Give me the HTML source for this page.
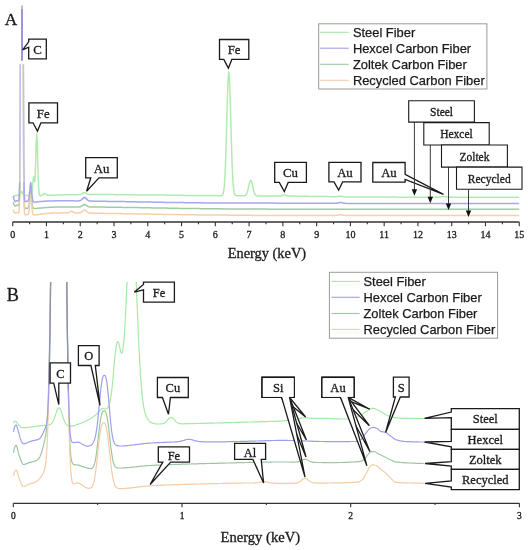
<!DOCTYPE html>
<html><head><meta charset="utf-8"><title>EDS spectra</title>
<style>html,body{margin:0;padding:0;background:#fff;width:528px;height:550px;overflow:hidden}svg{display:block}.t{font-family:'Liberation Serif','Times New Roman',serif;fill:#1a1a1a;stroke:#1a1a1a;stroke-width:0.3px}.l{font-family:'Liberation Sans',Arial,sans-serif;fill:#1a1a1a;stroke:#1a1a1a;stroke-width:0.25px}</style>
</head><body>
<svg width="528" height="550" viewBox="0 0 528 550"><rect x="0" y="0" width="528" height="550" fill="#fff"/><defs><clipPath id="ca"><rect x="0" y="5.7" width="528" height="230"/></clipPath><clipPath id="ca2"><rect x="0" y="64.4" width="528" height="170"/></clipPath><clipPath id="cb"><rect x="0" y="282" width="528" height="230"/></clipPath></defs><polyline points="13.2,196.7 13.7,196.3 14.2,195.9 14.7,195.7 15.2,195.6 15.7,195.5 16.2,195.4 16.7,195.4 17.2,195.3 17.7,195.3 18.2,195.3 18.7,195.3 19.2,195.2 19.7,195.0 20.2,194.3 20.7,193.2 21.2,191.9 21.7,191.4 22.2,191.9 22.7,193.2 23.2,194.4 23.7,195.1 24.2,195.4 24.7,195.4 25.2,195.5 25.7,195.5 26.2,195.5 26.7,195.5 27.2,195.6 27.7,195.6 28.2,195.5 28.7,195.4 29.2,194.9 29.7,194.1 30.2,193.2 30.7,192.8 31.2,193.1 31.7,193.2 32.2,191.1 32.7,185.6 33.2,179.1 33.7,176.7 34.2,179.7 34.7,181.8 35.2,175.6 35.7,159.7 36.2,141.9 36.7,133.9 37.2,141.9 37.7,160.3 38.2,178.0 38.7,189.1 39.2,193.9 39.7,195.4 40.2,195.7 40.7,195.7 41.2,195.5 41.7,195.3 42.2,195.0 42.7,194.6 43.2,194.2 43.7,193.8 44.2,193.6 44.7,193.6 45.2,193.8 45.7,194.1 46.2,194.5 46.7,194.8 47.2,195.1 47.7,195.2 48.2,195.3 48.7,195.3 49.2,195.3 49.7,195.3 50.2,195.3 50.7,195.3 51.2,195.3 51.7,195.2 52.2,195.2 52.7,195.2 53.2,195.2 53.7,195.2 54.2,195.1 54.7,195.1 55.2,195.1 55.7,195.1 56.2,195.1 56.7,195.0 57.2,195.0 57.7,195.0 58.2,195.0 58.7,195.0 59.2,195.0 59.7,194.9 60.2,194.9 60.7,194.9 61.2,194.9 61.7,194.9 62.2,194.9 62.7,194.9 63.2,194.8 63.7,194.8 64.2,194.8 64.7,194.8 65.2,194.8 65.7,194.8 66.2,194.8 66.7,194.8 67.2,194.8 67.7,194.8 68.2,194.8 68.7,194.8 69.2,194.8 69.7,194.8 70.2,194.8 70.7,194.8 71.2,194.7 71.7,194.7 72.2,194.7 72.7,194.7 73.2,194.7 73.7,194.7 74.2,194.7 74.7,194.7 75.2,194.7 75.7,194.7 76.2,194.7 76.7,194.7 77.2,194.7 77.7,194.7 78.2,194.7 78.7,194.7 79.2,194.6 79.7,194.6 80.2,194.5 80.7,194.3 81.2,194.2 81.7,193.9 82.2,193.6 82.7,193.3 83.2,193.0 83.7,192.8 84.2,192.7 84.7,192.7 85.2,192.8 85.7,193.0 86.2,193.2 86.7,193.5 87.2,193.8 87.7,194.1 88.2,194.3 88.7,194.4 89.2,194.5 89.7,194.6 90.2,194.6 90.7,194.6 91.2,194.6 91.7,194.6 92.2,194.6 92.7,194.6 93.2,194.6 93.7,194.6 94.2,194.6 94.7,194.6 95.2,194.6 95.7,194.6 96.2,194.6 96.7,194.6 97.2,194.6 97.7,194.6 98.2,194.6 98.7,194.6 99.2,194.6 99.7,194.6 100.2,194.6 100.7,194.6 101.2,194.6 101.7,194.6 102.2,194.6 102.7,194.6 103.2,194.6 103.7,194.6 104.2,194.6 104.7,194.6 105.2,194.6 105.7,194.6 106.2,194.6 106.7,194.6 107.2,194.6 107.7,194.6 108.2,194.6 108.7,194.6 109.2,194.6 109.7,194.6 110.2,194.6 110.7,194.6 111.2,194.6 111.7,194.6 112.2,194.6 112.7,194.6 113.2,194.6 113.7,194.6 114.2,194.7 114.7,194.7 115.2,194.7 115.7,194.7 116.2,194.7 116.7,194.7 117.2,194.7 117.7,194.7 118.2,194.7 118.7,194.7 119.2,194.7 119.7,194.7 120.2,194.7 120.7,194.7 121.2,194.7 121.7,194.7 122.2,194.7 122.7,194.7 123.2,194.7 123.7,194.7 124.2,194.7 124.7,194.7 125.2,194.7 125.7,194.8 126.2,194.8 126.7,194.8 127.2,194.8 127.7,194.8 128.2,194.8 128.7,194.8 129.2,194.8 129.7,194.8 130.2,194.8 130.7,194.8 131.2,194.8 131.7,194.8 132.2,194.8 132.7,194.8 133.2,194.8 133.7,194.8 134.2,194.8 134.7,194.8 135.2,194.9 135.7,194.9 136.2,194.9 136.7,194.9 137.2,194.9 137.7,194.9 138.2,194.9 138.7,194.9 139.2,194.9 139.7,194.9 140.2,194.9 140.7,194.9 141.2,194.9 141.7,194.9 142.2,194.9 142.7,194.9 143.2,194.9 143.7,194.9 144.2,194.9 144.7,194.9 145.2,195.0 145.7,195.0 146.2,195.0 146.7,195.0 147.2,195.0 147.7,195.0 148.2,195.0 148.7,195.0 149.2,195.0 149.7,195.0 150.2,195.0 150.7,195.0 151.2,195.0 151.7,195.0 152.2,195.0 152.7,195.0 153.2,195.0 153.7,195.0 154.2,195.0 154.7,195.0 155.2,195.0 155.7,195.1 156.2,195.1 156.7,195.1 157.2,195.1 157.7,195.1 158.2,195.1 158.7,195.1 159.2,195.1 159.7,195.1 160.2,195.1 160.7,195.1 161.2,195.1 161.7,195.1 162.2,195.1 162.7,195.1 163.2,195.1 163.7,195.1 164.2,195.1 164.7,195.1 165.2,195.1 165.7,195.2 166.2,195.2 166.7,195.2 167.2,195.2 167.7,195.2 168.2,195.2 168.7,195.2 169.2,195.2 169.7,195.2 170.2,195.2 170.7,195.2 171.2,195.2 171.7,195.2 172.2,195.2 172.7,195.2 173.2,195.2 173.7,195.2 174.2,195.2 174.7,195.3 175.2,195.3 175.7,195.3 176.2,195.3 176.7,195.3 177.2,195.3 177.7,195.3 178.2,195.3 178.7,195.3 179.2,195.3 179.7,195.3 180.2,195.3 180.7,195.3 181.2,195.3 181.7,195.3 182.2,195.3 182.7,195.3 183.2,195.3 183.7,195.3 184.2,195.4 184.7,195.4 185.2,195.4 185.7,195.4 186.2,195.4 186.7,195.4 187.2,195.4 187.7,195.4 188.2,195.4 188.7,195.4 189.2,195.4 189.7,195.4 190.2,195.4 190.7,195.4 191.2,195.4 191.7,195.4 192.2,195.4 192.7,195.4 193.2,195.4 193.7,195.5 194.2,195.5 194.7,195.5 195.2,195.5 195.7,195.5 196.2,195.5 196.7,195.5 197.2,195.5 197.7,195.5 198.2,195.5 198.7,195.5 199.2,195.5 199.7,195.5 200.2,195.5 200.7,195.5 201.2,195.5 201.7,195.5 202.2,195.5 202.7,195.5 203.2,195.5 203.7,195.5 204.2,195.6 204.7,195.6 205.2,195.6 205.7,195.6 206.2,195.6 206.7,195.6 207.2,195.6 207.7,195.6 208.2,195.6 208.7,195.6 209.2,195.6 209.7,195.6 210.2,195.6 210.7,195.6 211.2,195.6 211.7,195.6 212.2,195.6 212.7,195.6 213.2,195.6 213.7,195.6 214.2,195.6 214.7,195.6 215.2,195.6 215.7,195.6 216.2,195.6 216.7,195.6 217.2,195.7 217.7,195.7 218.2,195.7 218.7,195.7 219.2,195.7 219.7,195.7 220.2,195.7 220.7,195.6 221.2,195.6 221.7,195.5 222.2,195.2 222.7,194.5 223.2,193.2 223.7,190.9 224.2,186.9 224.7,180.5 225.2,171.2 225.7,158.4 226.2,142.4 226.7,124.3 227.2,105.7 227.7,89.1 228.2,77.2 228.7,71.9 229.2,74.2 229.7,83.7 230.2,98.7 230.7,116.8 231.2,135.4 231.7,152.4 232.2,166.5 232.7,177.2 233.2,184.7 233.7,189.6 234.2,192.5 234.7,194.2 235.2,195.0 235.7,195.4 236.2,195.6 236.7,195.7 237.2,195.8 237.7,195.8 238.2,195.8 238.7,195.8 239.2,195.8 239.7,195.8 240.2,195.8 240.7,195.8 241.2,195.8 241.7,195.8 242.2,195.8 242.7,195.8 243.2,195.8 243.7,195.8 244.2,195.7 244.7,195.6 245.2,195.5 245.7,195.1 246.2,194.6 246.7,193.7 247.2,192.5 247.7,190.8 248.2,188.7 248.7,186.4 249.2,184.1 249.7,182.1 250.2,180.7 250.7,180.2 251.2,180.7 251.7,182.1 252.2,184.1 252.7,186.4 253.2,188.7 253.7,190.8 254.2,192.5 254.7,193.8 255.2,194.6 255.7,195.2 256.2,195.5 256.7,195.7 257.2,195.8 257.7,195.9 258.2,195.9 258.7,195.9 259.2,195.9 259.7,195.9 260.2,195.9 260.7,195.9 261.2,195.9 261.7,195.9 262.2,195.9 262.7,195.9 263.2,195.9 263.7,195.9 264.2,195.9 264.7,195.9 265.2,195.9 265.7,195.9 266.2,195.9 266.7,195.9 267.2,195.9 267.7,195.9 268.2,195.9 268.7,195.9 269.2,196.0 269.7,196.0 270.2,196.0 270.7,196.0 271.2,196.0 271.7,196.0 272.2,196.0 272.7,196.0 273.2,196.0 273.7,196.0 274.2,196.0 274.7,196.0 275.2,196.0 275.7,196.0 276.2,196.0 276.7,196.0 277.2,196.0 277.7,196.0 278.2,196.0 278.7,196.0 279.2,196.0 279.7,196.0 280.2,195.9 280.7,195.9 281.2,195.8 281.7,195.7 282.2,195.5 282.7,195.4 283.2,195.2 283.7,195.1 284.2,195.1 284.7,195.1 285.2,195.1 285.7,195.2 286.2,195.4 286.7,195.5 287.2,195.7 287.7,195.8 288.2,195.9 288.7,196.0 289.2,196.0 289.7,196.1 290.2,196.1 290.7,196.1 291.2,196.1 291.7,196.1 292.2,196.1 292.7,196.1 293.2,196.1 293.7,196.1 294.2,196.1 294.7,196.1 295.2,196.2 295.7,196.2 296.2,196.2 296.7,196.2 297.2,196.2 297.7,196.2 298.2,196.2 298.7,196.2 299.2,196.2 299.7,196.2 300.2,196.2 300.7,196.2 301.2,196.2 301.7,196.2 302.2,196.2 302.7,196.2 303.2,196.2 303.7,196.3 304.2,196.3 304.7,196.3 305.2,196.3 305.7,196.3 306.2,196.3 306.7,196.3 307.2,196.3 307.7,196.3 308.2,196.3 308.7,196.3 309.2,196.3 309.7,196.3 310.2,196.3 310.7,196.4 311.2,196.4 311.7,196.4 312.2,196.4 312.7,196.4 313.2,196.4 313.7,196.4 314.2,196.4 314.7,196.4 315.2,196.4 315.7,196.4 316.2,196.4 316.7,196.4 317.2,196.5 317.7,196.5 318.2,196.5 318.7,196.5 319.2,196.5 319.7,196.5 320.2,196.5 320.7,196.5 321.2,196.5 321.7,196.5 322.2,196.5 322.7,196.5 323.2,196.6 323.7,196.6 324.2,196.6 324.7,196.6 325.2,196.6 325.7,196.6 326.2,196.6 326.7,196.6 327.2,196.6 327.7,196.6 328.2,196.6 328.7,196.6 329.2,196.6 329.7,196.7 330.2,196.7 330.7,196.7 331.2,196.7 331.7,196.7 332.2,196.7 332.7,196.7 333.2,196.7 333.7,196.7 334.2,196.7 334.7,196.7 335.2,196.7 335.7,196.7 336.2,196.7 336.7,196.7 337.2,196.6 337.7,196.6 338.2,196.5 338.7,196.4 339.2,196.3 339.7,196.3 340.2,196.2 340.7,196.2 341.2,196.3 341.7,196.3 342.2,196.4 342.7,196.5 343.2,196.6 343.7,196.7 344.2,196.7 344.7,196.8 345.2,196.8 345.7,196.9 346.2,196.9 346.7,196.9 347.2,196.9 347.7,196.9 348.2,196.9 348.7,196.9 349.2,196.9 349.7,196.9 350.2,196.9 350.7,196.9 351.2,196.9 351.7,196.9 352.2,196.9 352.7,197.0 353.2,197.0 353.7,197.0 354.2,197.0 354.7,197.0 355.2,197.0 355.7,197.0 356.2,197.0 356.7,197.0 357.2,197.0 357.7,197.0 358.2,197.0 358.7,197.0 359.2,197.0 359.7,197.0 360.2,197.0 360.7,197.0 361.2,197.0 361.7,197.0 362.2,197.0 362.7,197.0 363.2,197.0 363.7,197.0 364.2,197.0 364.7,197.0 365.2,197.0 365.7,197.0 366.2,197.0 366.7,197.0 367.2,197.0 367.7,197.0 368.2,197.0 368.7,197.0 369.2,197.0 369.7,197.0 370.2,197.0 370.7,197.0 371.2,197.1 371.7,197.1 372.2,197.1 372.7,197.1 373.2,197.1 373.7,197.1 374.2,197.1 374.7,197.1 375.2,197.1 375.7,197.1 376.2,197.1 376.7,197.1 377.2,197.1 377.7,197.1 378.2,197.1 378.7,197.1 379.2,197.1 379.7,197.1 380.2,197.1 380.7,197.1 381.2,197.1 381.7,197.1 382.2,197.1 382.7,197.1 383.2,197.1 383.7,197.1 384.2,197.1 384.7,197.1 385.2,197.1 385.7,197.1 386.2,197.1 386.7,197.1 387.2,197.1 387.7,197.1 388.2,197.1 388.7,197.1 389.2,197.1 389.7,197.1 390.2,197.1 390.7,197.1 391.2,197.1 391.7,197.1 392.2,197.1 392.7,197.1 393.2,197.1 393.7,197.1 394.2,197.1 394.7,197.1 395.2,197.1 395.7,197.2 396.2,197.2 396.7,197.2 397.2,197.2 397.7,197.2 398.2,197.2 398.7,197.2 399.2,197.2 399.7,197.2 400.2,197.2 400.7,197.2 401.2,197.2 401.7,197.2 402.2,197.2 402.7,197.2 403.2,197.2 403.7,197.2 404.2,197.2 404.7,197.2 405.2,197.2 405.7,197.2 406.2,197.2 406.7,197.2 407.2,197.2 407.7,197.2 408.2,197.2 408.7,197.2 409.2,197.2 409.7,197.2 410.2,197.2 410.7,197.2 411.2,197.2 411.7,197.2 412.2,197.2 412.7,197.2 413.2,197.2 413.7,197.2 414.2,197.2 414.7,197.2 415.2,197.2 415.7,197.2 416.2,197.2 416.7,197.2 417.2,197.2 417.7,197.2 418.2,197.2 418.7,197.2 419.2,197.2 419.7,197.2 420.2,197.2 420.7,197.2 421.2,197.2 421.7,197.2 422.2,197.2 422.7,197.2 423.2,197.2 423.7,197.2 424.2,197.2 424.7,197.2 425.2,197.2 425.7,197.2 426.2,197.2 426.7,197.2 427.2,197.2 427.7,197.2 428.2,197.2 428.7,197.3 429.2,197.3 429.7,197.3 430.2,197.3 430.7,197.3 431.2,197.3 431.7,197.3 432.2,197.3 432.7,197.3 433.2,197.3 433.7,197.3 434.2,197.3 434.7,197.3 435.2,197.3 435.7,197.2 436.2,197.2 436.7,197.2 437.2,197.2 437.7,197.2 438.2,197.1 438.7,197.1 439.2,197.0 439.7,197.0 440.2,196.9 440.7,196.8 441.2,196.8 441.7,196.7 442.2,196.6 442.7,196.5 443.2,196.5 443.7,196.5 444.2,196.5 444.7,196.5 445.2,196.5 445.7,196.6 446.2,196.7 446.7,196.8 447.2,196.8 447.7,196.9 448.2,197.0 448.7,197.1 449.2,197.1 449.7,197.2 450.2,197.2 450.7,197.2 451.2,197.2 451.7,197.3 452.2,197.3 452.7,197.3 453.2,197.3 453.7,197.3 454.2,197.3 454.7,197.3 455.2,197.3 455.7,197.3 456.2,197.3 456.7,197.3 457.2,197.3 457.7,197.3 458.2,197.3 458.7,197.3 459.2,197.3 459.7,197.3 460.2,197.3 460.7,197.3 461.2,197.3 461.7,197.3 462.2,197.3 462.7,197.3 463.2,197.3 463.7,197.3 464.2,197.3 464.7,197.3 465.2,197.3 465.7,197.3 466.2,197.3 466.7,197.3 467.2,197.3 467.7,197.3 468.2,197.3 468.7,197.3 469.2,197.3 469.7,197.3 470.2,197.3 470.7,197.3 471.2,197.3 471.7,197.3 472.2,197.3 472.7,197.3 473.2,197.3 473.7,197.3 474.2,197.3 474.7,197.3 475.2,197.3 475.7,197.3 476.2,197.3 476.7,197.3 477.2,197.3 477.7,197.3 478.2,197.3 478.7,197.3 479.2,197.3 479.7,197.3 480.2,197.3 480.7,197.3 481.2,197.3 481.7,197.3 482.2,197.3 482.7,197.3 483.2,197.3 483.7,197.3 484.2,197.3 484.7,197.3 485.2,197.3 485.7,197.3 486.2,197.3 486.7,197.3 487.2,197.3 487.7,197.3 488.2,197.3 488.7,197.3 489.2,197.3 489.7,197.3 490.2,197.3 490.7,197.3 491.2,197.3 491.7,197.3 492.2,197.3 492.7,197.3 493.2,197.3 493.7,197.3 494.2,197.3 494.7,197.3 495.2,197.3 495.7,197.3 496.2,197.3 496.7,197.3 497.2,197.3 497.7,197.3 498.2,197.3 498.7,197.3 499.2,197.3 499.7,197.3 500.2,197.3 500.7,197.3 501.2,197.3 501.7,197.3 502.2,197.3 502.7,197.3 503.2,197.3 503.7,197.3 504.2,197.3 504.7,197.3 505.2,197.3 505.7,197.3 506.2,197.3 506.7,197.3 507.2,197.3 507.7,197.3 508.2,197.3 508.7,197.3 509.2,197.3 509.7,197.3 510.2,197.3 510.7,197.3 511.2,197.3 511.7,197.3 512.2,197.3 512.7,197.3 513.2,197.3 513.7,197.3 514.2,197.3 514.7,197.3 515.2,197.3 515.7,197.3 516.2,197.3 516.7,197.3 517.2,197.3 517.7,197.3 518.2,197.3 518.7,197.3 519.2,197.3" fill="none" stroke="#b0ecb0" stroke-width="1.5" stroke-linejoin="round" clip-path="url(#ca)"/><polyline points="13.2,202.2 13.7,203.8 14.2,205.1 14.7,205.9 15.2,206.0 15.7,205.8 16.2,205.5 16.7,205.2 17.2,205.2 17.7,205.3 18.2,205.4 18.7,205.4 19.2,203.4 19.7,186.3 20.2,103.7 20.7,-134.3 21.2,-519.0 21.7,-783.7 22.2,-659.7 22.7,-278.8 23.2,33.1 23.7,168.0 24.2,202.5 24.7,207.9 25.2,208.4 25.7,208.4 26.2,208.4 26.7,208.3 27.2,208.3 27.7,208.2 28.2,207.8 28.7,206.8 29.2,204.0 29.7,199.1 30.2,193.7 30.7,191.3 31.2,193.8 31.7,199.3 32.2,204.2 32.7,207.1 33.2,208.1 33.7,208.4 34.2,208.5 34.7,208.5 35.2,208.5 35.7,208.4 36.2,208.4 36.7,208.4 37.2,208.3 37.7,208.3 38.2,208.3 38.7,208.2 39.2,208.2 39.7,208.1 40.2,208.1 40.7,208.1 41.2,208.0 41.7,208.0 42.2,207.9 42.7,207.9 43.2,207.8 43.7,207.8 44.2,207.7 44.7,207.7 45.2,207.6 45.7,207.6 46.2,207.5 46.7,207.5 47.2,207.5 47.7,207.4 48.2,207.4 48.7,207.4 49.2,207.3 49.7,207.3 50.2,207.3 50.7,207.3 51.2,207.3 51.7,207.2 52.2,207.2 52.7,207.2 53.2,207.2 53.7,207.2 54.2,207.1 54.7,207.1 55.2,207.1 55.7,207.1 56.2,207.1 56.7,207.1 57.2,207.0 57.7,207.0 58.2,207.0 58.7,207.0 59.2,207.0 59.7,207.0 60.2,207.0 60.7,207.0 61.2,206.9 61.7,206.9 62.2,206.9 62.7,206.9 63.2,206.9 63.7,206.9 64.2,206.9 64.7,206.9 65.2,206.9 65.7,206.9 66.2,206.9 66.7,206.9 67.2,206.9 67.7,206.9 68.2,206.9 68.7,206.9 69.2,206.9 69.7,206.9 70.2,206.9 70.7,206.9 71.2,206.9 71.7,206.9 72.2,206.9 72.7,206.9 73.2,206.9 73.7,206.9 74.2,206.9 74.7,206.9 75.2,206.9 75.7,206.9 76.2,206.9 76.7,206.9 77.2,206.9 77.7,206.9 78.2,206.9 78.7,206.9 79.2,206.9 79.7,206.8 80.2,206.7 80.7,206.5 81.2,206.3 81.7,206.0 82.2,205.7 82.7,205.3 83.2,204.9 83.7,204.7 84.2,204.5 84.7,204.5 85.2,204.6 85.7,204.9 86.2,205.2 86.7,205.6 87.2,206.0 87.7,206.3 88.2,206.6 88.7,206.7 89.2,206.9 89.7,206.9 90.2,207.0 90.7,207.0 91.2,207.0 91.7,207.0 92.2,207.0 92.7,207.0 93.2,207.0 93.7,207.0 94.2,207.1 94.7,207.1 95.2,207.1 95.7,207.1 96.2,207.1 96.7,207.1 97.2,207.1 97.7,207.1 98.2,207.1 98.7,207.1 99.2,207.1 99.7,207.1 100.2,207.1 100.7,207.1 101.2,207.1 101.7,207.1 102.2,207.1 102.7,207.1 103.2,207.1 103.7,207.1 104.2,207.1 104.7,207.1 105.2,207.1 105.7,207.2 106.2,207.2 106.7,207.2 107.2,207.2 107.7,207.2 108.2,207.2 108.7,207.2 109.2,207.2 109.7,207.2 110.2,207.2 110.7,207.2 111.2,207.2 111.7,207.2 112.2,207.2 112.7,207.2 113.2,207.2 113.7,207.2 114.2,207.2 114.7,207.3 115.2,207.3 115.7,207.3 116.2,207.3 116.7,207.3 117.2,207.3 117.7,207.3 118.2,207.3 118.7,207.3 119.2,207.3 119.7,207.3 120.2,207.3 120.7,207.3 121.2,207.3 121.7,207.3 122.2,207.4 122.7,207.4 123.2,207.4 123.7,207.4 124.2,207.4 124.7,207.4 125.2,207.4 125.7,207.4 126.2,207.4 126.7,207.4 127.2,207.4 127.7,207.4 128.2,207.4 128.7,207.5 129.2,207.5 129.7,207.5 130.2,207.5 130.7,207.5 131.2,207.5 131.7,207.5 132.2,207.5 132.7,207.5 133.2,207.5 133.7,207.5 134.2,207.5 134.7,207.6 135.2,207.6 135.7,207.6 136.2,207.6 136.7,207.6 137.2,207.6 137.7,207.6 138.2,207.6 138.7,207.6 139.2,207.6 139.7,207.6 140.2,207.7 140.7,207.7 141.2,207.7 141.7,207.7 142.2,207.7 142.7,207.7 143.2,207.7 143.7,207.7 144.2,207.7 144.7,207.7 145.2,207.7 145.7,207.8 146.2,207.8 146.7,207.8 147.2,207.8 147.7,207.8 148.2,207.8 148.7,207.8 149.2,207.8 149.7,207.8 150.2,207.8 150.7,207.8 151.2,207.9 151.7,207.9 152.2,207.9 152.7,207.9 153.2,207.9 153.7,207.9 154.2,207.9 154.7,207.9 155.2,207.9 155.7,207.9 156.2,207.9 156.7,208.0 157.2,208.0 157.7,208.0 158.2,208.0 158.7,208.0 159.2,208.0 159.7,208.0 160.2,208.0 160.7,208.0 161.2,208.0 161.7,208.0 162.2,208.1 162.7,208.1 163.2,208.1 163.7,208.1 164.2,208.1 164.7,208.1 165.2,208.1 165.7,208.1 166.2,208.1 166.7,208.1 167.2,208.1 167.7,208.2 168.2,208.2 168.7,208.2 169.2,208.2 169.7,208.2 170.2,208.2 170.7,208.2 171.2,208.2 171.7,208.2 172.2,208.2 172.7,208.2 173.2,208.3 173.7,208.3 174.2,208.3 174.7,208.3 175.2,208.3 175.7,208.3 176.2,208.3 176.7,208.3 177.2,208.3 177.7,208.3 178.2,208.3 178.7,208.3 179.2,208.4 179.7,208.4 180.2,208.4 180.7,208.4 181.2,208.4 181.7,208.4 182.2,208.4 182.7,208.4 183.2,208.4 183.7,208.4 184.2,208.4 184.7,208.4 185.2,208.5 185.7,208.5 186.2,208.5 186.7,208.5 187.2,208.5 187.7,208.5 188.2,208.5 188.7,208.5 189.2,208.5 189.7,208.5 190.2,208.5 190.7,208.5 191.2,208.5 191.7,208.5 192.2,208.6 192.7,208.6 193.2,208.6 193.7,208.6 194.2,208.6 194.7,208.6 195.2,208.6 195.7,208.6 196.2,208.6 196.7,208.6 197.2,208.6 197.7,208.6 198.2,208.6 198.7,208.6 199.2,208.6 199.7,208.6 200.2,208.7 200.7,208.7 201.2,208.7 201.7,208.7 202.2,208.7 202.7,208.7 203.2,208.7 203.7,208.7 204.2,208.7 204.7,208.7 205.2,208.7 205.7,208.7 206.2,208.7 206.7,208.7 207.2,208.7 207.7,208.7 208.2,208.7 208.7,208.7 209.2,208.7 209.7,208.7 210.2,208.8 210.7,208.8 211.2,208.8 211.7,208.8 212.2,208.8 212.7,208.8 213.2,208.8 213.7,208.8 214.2,208.8 214.7,208.8 215.2,208.8 215.7,208.8 216.2,208.8 216.7,208.8 217.2,208.8 217.7,208.8 218.2,208.8 218.7,208.8 219.2,208.8 219.7,208.8 220.2,208.8 220.7,208.8 221.2,208.8 221.7,208.8 222.2,208.8 222.7,208.9 223.2,208.9 223.7,208.9 224.2,208.9 224.7,208.9 225.2,208.9 225.7,208.9 226.2,208.9 226.7,208.9 227.2,208.9 227.7,208.9 228.2,208.9 228.7,208.9 229.2,208.9 229.7,208.9 230.2,208.9 230.7,208.9 231.2,208.9 231.7,208.9 232.2,208.9 232.7,208.9 233.2,208.9 233.7,208.9 234.2,208.9 234.7,208.9 235.2,209.0 235.7,209.0 236.2,209.0 236.7,209.0 237.2,209.0 237.7,209.0 238.2,209.0 238.7,209.0 239.2,209.0 239.7,209.0 240.2,209.0 240.7,209.0 241.2,209.0 241.7,209.0 242.2,209.0 242.7,209.0 243.2,209.0 243.7,209.0 244.2,209.0 244.7,209.0 245.2,209.0 245.7,209.0 246.2,209.0 246.7,209.0 247.2,209.0 247.7,209.0 248.2,209.0 248.7,209.0 249.2,209.0 249.7,209.1 250.2,209.1 250.7,209.1 251.2,209.1 251.7,209.1 252.2,209.1 252.7,209.1 253.2,209.1 253.7,209.1 254.2,209.1 254.7,209.1 255.2,209.1 255.7,209.1 256.2,209.1 256.7,209.1 257.2,209.1 257.7,209.1 258.2,209.1 258.7,209.1 259.2,209.1 259.7,209.1 260.2,209.1 260.7,209.1 261.2,209.1 261.7,209.1 262.2,209.1 262.7,209.1 263.2,209.1 263.7,209.1 264.2,209.1 264.7,209.1 265.2,209.1 265.7,209.1 266.2,209.1 266.7,209.1 267.2,209.1 267.7,209.2 268.2,209.2 268.7,209.2 269.2,209.2 269.7,209.2 270.2,209.2 270.7,209.2 271.2,209.2 271.7,209.2 272.2,209.2 272.7,209.2 273.2,209.2 273.7,209.2 274.2,209.2 274.7,209.2 275.2,209.2 275.7,209.2 276.2,209.2 276.7,209.2 277.2,209.2 277.7,209.2 278.2,209.2 278.7,209.2 279.2,209.2 279.7,209.2 280.2,209.2 280.7,209.2 281.2,209.2 281.7,209.2 282.2,209.2 282.7,209.2 283.2,209.2 283.7,209.2 284.2,209.2 284.7,209.2 285.2,209.2 285.7,209.2 286.2,209.2 286.7,209.2 287.2,209.2 287.7,209.2 288.2,209.2 288.7,209.2 289.2,209.2 289.7,209.2 290.2,209.2 290.7,209.2 291.2,209.2 291.7,209.2 292.2,209.2 292.7,209.2 293.2,209.2 293.7,209.2 294.2,209.2 294.7,209.2 295.2,209.2 295.7,209.2 296.2,209.2 296.7,209.2 297.2,209.2 297.7,209.2 298.2,209.2 298.7,209.2 299.2,209.2 299.7,209.2 300.2,209.2 300.7,209.2 301.2,209.2 301.7,209.2 302.2,209.2 302.7,209.2 303.2,209.2 303.7,209.2 304.2,209.2 304.7,209.2 305.2,209.2 305.7,209.2 306.2,209.2 306.7,209.2 307.2,209.2 307.7,209.2 308.2,209.2 308.7,209.2 309.2,209.2 309.7,209.2 310.2,209.2 310.7,209.2 311.2,209.2 311.7,209.2 312.2,209.2 312.7,209.2 313.2,209.2 313.7,209.2 314.2,209.2 314.7,209.2 315.2,209.2 315.7,209.2 316.2,209.2 316.7,209.2 317.2,209.2 317.7,209.2 318.2,209.2 318.7,209.2 319.2,209.2 319.7,209.2 320.2,209.2 320.7,209.2 321.2,209.2 321.7,209.2 322.2,209.2 322.7,209.2 323.2,209.2 323.7,209.2 324.2,209.2 324.7,209.2 325.2,209.2 325.7,209.2 326.2,209.2 326.7,209.2 327.2,209.2 327.7,209.2 328.2,209.2 328.7,209.2 329.2,209.2 329.7,209.2 330.2,209.2 330.7,209.2 331.2,209.2 331.7,209.2 332.2,209.2 332.7,209.2 333.2,209.2 333.7,209.2 334.2,209.2 334.7,209.2 335.2,209.2 335.7,209.2 336.2,209.2 336.7,209.2 337.2,209.2 337.7,209.2 338.2,209.2 338.7,209.2 339.2,209.2 339.7,209.2 340.2,209.2 340.7,209.2 341.2,209.2 341.7,209.2 342.2,209.2 342.7,209.2 343.2,209.2 343.7,209.2 344.2,209.2 344.7,209.2 345.2,209.2 345.7,209.2 346.2,209.2 346.7,209.2 347.2,209.2 347.7,209.2 348.2,209.2 348.7,209.2 349.2,209.2 349.7,209.2 350.2,209.2 350.7,209.2 351.2,209.2 351.7,209.2 352.2,209.2 352.7,209.2 353.2,209.2 353.7,209.2 354.2,209.2 354.7,209.2 355.2,209.2 355.7,209.2 356.2,209.2 356.7,209.2 357.2,209.2 357.7,209.2 358.2,209.2 358.7,209.2 359.2,209.2 359.7,209.2 360.2,209.2 360.7,209.2 361.2,209.2 361.7,209.2 362.2,209.2 362.7,209.2 363.2,209.2 363.7,209.2 364.2,209.2 364.7,209.2 365.2,209.2 365.7,209.2 366.2,209.2 366.7,209.2 367.2,209.2 367.7,209.2 368.2,209.2 368.7,209.2 369.2,209.2 369.7,209.2 370.2,209.2 370.7,209.2 371.2,209.2 371.7,209.2 372.2,209.2 372.7,209.2 373.2,209.2 373.7,209.2 374.2,209.2 374.7,209.2 375.2,209.2 375.7,209.2 376.2,209.2 376.7,209.2 377.2,209.2 377.7,209.2 378.2,209.2 378.7,209.2 379.2,209.2 379.7,209.2 380.2,209.2 380.7,209.2 381.2,209.2 381.7,209.2 382.2,209.2 382.7,209.2 383.2,209.2 383.7,209.2 384.2,209.2 384.7,209.2 385.2,209.2 385.7,209.2 386.2,209.2 386.7,209.2 387.2,209.2 387.7,209.2 388.2,209.2 388.7,209.2 389.2,209.2 389.7,209.2 390.2,209.2 390.7,209.2 391.2,209.2 391.7,209.2 392.2,209.2 392.7,209.2 393.2,209.2 393.7,209.2 394.2,209.2 394.7,209.2 395.2,209.2 395.7,209.2 396.2,209.2 396.7,209.2 397.2,209.2 397.7,209.2 398.2,209.2 398.7,209.2 399.2,209.2 399.7,209.2 400.2,209.2 400.7,209.2 401.2,209.2 401.7,209.2 402.2,209.2 402.7,209.2 403.2,209.2 403.7,209.2 404.2,209.2 404.7,209.2 405.2,209.2 405.7,209.2 406.2,209.2 406.7,209.2 407.2,209.2 407.7,209.2 408.2,209.2 408.7,209.2 409.2,209.2 409.7,209.2 410.2,209.2 410.7,209.2 411.2,209.2 411.7,209.2 412.2,209.2 412.7,209.2 413.2,209.2 413.7,209.2 414.2,209.2 414.7,209.2 415.2,209.3 415.7,209.3 416.2,209.3 416.7,209.3 417.2,209.3 417.7,209.3 418.2,209.3 418.7,209.3 419.2,209.3 419.7,209.3 420.2,209.3 420.7,209.3 421.2,209.3 421.7,209.3 422.2,209.3 422.7,209.3 423.2,209.3 423.7,209.3 424.2,209.3 424.7,209.3 425.2,209.3 425.7,209.3 426.2,209.3 426.7,209.3 427.2,209.3 427.7,209.3 428.2,209.3 428.7,209.3 429.2,209.3 429.7,209.3 430.2,209.3 430.7,209.3 431.2,209.3 431.7,209.3 432.2,209.3 432.7,209.3 433.2,209.3 433.7,209.3 434.2,209.3 434.7,209.3 435.2,209.3 435.7,209.3 436.2,209.3 436.7,209.3 437.2,209.3 437.7,209.3 438.2,209.3 438.7,209.3 439.2,209.3 439.7,209.3 440.2,209.3 440.7,209.3 441.2,209.3 441.7,209.3 442.2,209.3 442.7,209.3 443.2,209.3 443.7,209.3 444.2,209.3 444.7,209.3 445.2,209.3 445.7,209.3 446.2,209.3 446.7,209.3 447.2,209.3 447.7,209.3 448.2,209.3 448.7,209.3 449.2,209.3 449.7,209.3 450.2,209.3 450.7,209.3 451.2,209.3 451.7,209.3 452.2,209.3 452.7,209.3 453.2,209.3 453.7,209.3 454.2,209.3 454.7,209.3 455.2,209.3 455.7,209.3 456.2,209.3 456.7,209.3 457.2,209.3 457.7,209.3 458.2,209.3 458.7,209.3 459.2,209.3 459.7,209.3 460.2,209.3 460.7,209.3 461.2,209.3 461.7,209.3 462.2,209.3 462.7,209.3 463.2,209.3 463.7,209.3 464.2,209.3 464.7,209.3 465.2,209.3 465.7,209.3 466.2,209.3 466.7,209.3 467.2,209.3 467.7,209.3 468.2,209.3 468.7,209.3 469.2,209.3 469.7,209.3 470.2,209.3 470.7,209.3 471.2,209.3 471.7,209.3 472.2,209.3 472.7,209.3 473.2,209.3 473.7,209.3 474.2,209.3 474.7,209.3 475.2,209.3 475.7,209.3 476.2,209.3 476.7,209.3 477.2,209.3 477.7,209.3 478.2,209.3 478.7,209.3 479.2,209.3 479.7,209.3 480.2,209.3 480.7,209.3 481.2,209.3 481.7,209.3 482.2,209.3 482.7,209.3 483.2,209.3 483.7,209.3 484.2,209.3 484.7,209.3 485.2,209.3 485.7,209.3 486.2,209.3 486.7,209.3 487.2,209.3 487.7,209.3 488.2,209.3 488.7,209.3 489.2,209.3 489.7,209.3 490.2,209.3 490.7,209.3 491.2,209.3 491.7,209.3 492.2,209.3 492.7,209.3 493.2,209.3 493.7,209.3 494.2,209.3 494.7,209.3 495.2,209.3 495.7,209.3 496.2,209.3 496.7,209.3 497.2,209.3 497.7,209.3 498.2,209.3 498.7,209.3 499.2,209.3 499.7,209.3 500.2,209.3 500.7,209.3 501.2,209.3 501.7,209.3 502.2,209.3 502.7,209.3 503.2,209.3 503.7,209.3 504.2,209.3 504.7,209.3 505.2,209.3 505.7,209.3 506.2,209.3 506.7,209.3 507.2,209.3 507.7,209.3 508.2,209.3 508.7,209.3 509.2,209.3 509.7,209.3 510.2,209.3 510.7,209.3 511.2,209.3 511.7,209.3 512.2,209.3 512.7,209.3 513.2,209.3 513.7,209.3 514.2,209.3 514.7,209.3 515.2,209.3 515.7,209.3 516.2,209.3 516.7,209.3 517.2,209.3 517.7,209.3 518.2,209.3 518.7,209.3 519.2,209.3" fill="none" stroke="#a2caa6" stroke-width="1.5" stroke-linejoin="round" clip-path="url(#ca2)"/><polyline points="13.2,209.8 13.7,211.1 14.2,212.2 14.7,212.9 15.2,213.0 15.7,212.9 16.2,212.7 16.7,212.6 17.2,212.6 17.7,212.7 18.2,212.7 18.7,212.7 19.2,210.6 19.7,193.4 20.2,110.7 20.7,-127.4 21.2,-512.2 21.7,-777.0 22.2,-653.1 22.7,-272.2 23.2,39.6 23.7,174.4 24.2,208.9 24.7,214.3 25.2,214.8 25.7,214.8 26.2,214.8 26.7,214.7 27.2,214.7 27.7,214.6 28.2,214.2 28.7,212.9 29.2,209.6 29.7,203.9 30.2,197.6 30.7,194.7 31.2,197.7 31.7,204.1 32.2,209.9 32.7,213.2 33.2,214.5 33.7,214.8 34.2,214.9 34.7,214.9 35.2,214.8 35.7,214.8 36.2,214.8 36.7,214.7 37.2,214.7 37.7,214.6 38.2,214.6 38.7,214.5 39.2,214.4 39.7,214.4 40.2,214.3 40.7,214.2 41.2,214.2 41.7,214.1 42.2,214.0 42.7,214.0 43.2,213.9 43.7,213.8 44.2,213.8 44.7,213.7 45.2,213.6 45.7,213.6 46.2,213.5 46.7,213.5 47.2,213.4 47.7,213.4 48.2,213.3 48.7,213.3 49.2,213.2 49.7,213.2 50.2,213.2 50.7,213.2 51.2,213.2 51.7,213.1 52.2,213.1 52.7,213.1 53.2,213.1 53.7,213.1 54.2,213.0 54.7,213.0 55.2,213.0 55.7,213.0 56.2,213.0 56.7,213.0 57.2,212.9 57.7,212.9 58.2,212.9 58.7,212.9 59.2,212.9 59.7,212.9 60.2,212.9 60.7,212.9 61.2,212.8 61.7,212.8 62.2,212.8 62.7,212.8 63.2,212.8 63.7,212.8 64.2,212.8 64.7,212.8 65.2,212.8 65.7,212.8 66.2,212.8 66.7,212.8 67.2,212.8 67.7,212.7 68.2,212.7 68.7,212.5 69.2,212.3 69.7,212.1 70.2,211.8 70.7,211.5 71.2,211.4 71.7,211.3 72.2,211.5 72.7,211.7 73.2,212.1 73.7,212.3 74.2,212.6 74.7,212.7 75.2,212.8 75.7,212.8 76.2,212.9 76.7,212.9 77.2,212.9 77.7,212.9 78.2,212.9 78.7,212.9 79.2,212.8 79.7,212.8 80.2,212.6 80.7,212.5 81.2,212.2 81.7,211.8 82.2,211.4 82.7,211.0 83.2,210.6 83.7,210.2 84.2,210.0 84.7,210.0 85.2,210.2 85.7,210.5 86.2,211.0 86.7,211.4 87.2,211.9 87.7,212.2 88.2,212.5 88.7,212.8 89.2,212.9 89.7,213.0 90.2,213.1 90.7,213.1 91.2,213.1 91.7,213.1 92.2,213.2 92.7,213.2 93.2,213.2 93.7,213.2 94.2,213.2 94.7,213.2 95.2,213.2 95.7,213.2 96.2,213.2 96.7,213.2 97.2,213.3 97.7,213.3 98.2,213.3 98.7,213.3 99.2,213.3 99.7,213.3 100.2,213.3 100.7,213.3 101.2,213.3 101.7,213.3 102.2,213.3 102.7,213.3 103.2,213.3 103.7,213.4 104.2,213.4 104.7,213.4 105.2,213.4 105.7,213.4 106.2,213.4 106.7,213.4 107.2,213.4 107.7,213.4 108.2,213.4 108.7,213.4 109.2,213.4 109.7,213.5 110.2,213.5 110.7,213.5 111.2,213.5 111.7,213.5 112.2,213.5 112.7,213.5 113.2,213.5 113.7,213.5 114.2,213.5 114.7,213.5 115.2,213.5 115.7,213.6 116.2,213.6 116.7,213.6 117.2,213.6 117.7,213.6 118.2,213.6 118.7,213.6 119.2,213.6 119.7,213.6 120.2,213.6 120.7,213.6 121.2,213.6 121.7,213.7 122.2,213.7 122.7,213.7 123.2,213.7 123.7,213.7 124.2,213.7 124.7,213.7 125.2,213.7 125.7,213.7 126.2,213.7 126.7,213.7 127.2,213.7 127.7,213.8 128.2,213.8 128.7,213.8 129.2,213.8 129.7,213.8 130.2,213.8 130.7,213.8 131.2,213.8 131.7,213.8 132.2,213.8 132.7,213.8 133.2,213.9 133.7,213.9 134.2,213.9 134.7,213.9 135.2,213.9 135.7,213.9 136.2,213.9 136.7,213.9 137.2,213.9 137.7,213.9 138.2,213.9 138.7,214.0 139.2,214.0 139.7,214.0 140.2,214.0 140.7,214.0 141.2,214.0 141.7,214.0 142.2,214.0 142.7,214.0 143.2,214.0 143.7,214.0 144.2,214.0 144.7,214.1 145.2,214.1 145.7,214.1 146.2,214.1 146.7,214.1 147.2,214.1 147.7,214.1 148.2,214.1 148.7,214.1 149.2,214.1 149.7,214.1 150.2,214.2 150.7,214.2 151.2,214.2 151.7,214.2 152.2,214.2 152.7,214.2 153.2,214.2 153.7,214.2 154.2,214.2 154.7,214.2 155.2,214.2 155.7,214.2 156.2,214.3 156.7,214.3 157.2,214.3 157.7,214.3 158.2,214.3 158.7,214.3 159.2,214.3 159.7,214.3 160.2,214.3 160.7,214.3 161.2,214.3 161.7,214.4 162.2,214.4 162.7,214.4 163.2,214.4 163.7,214.4 164.2,214.4 164.7,214.4 165.2,214.4 165.7,214.4 166.2,214.4 166.7,214.4 167.2,214.4 167.7,214.4 168.2,214.5 168.7,214.5 169.2,214.5 169.7,214.5 170.2,214.5 170.7,214.5 171.2,214.5 171.7,214.5 172.2,214.5 172.7,214.5 173.2,214.5 173.7,214.5 174.2,214.6 174.7,214.6 175.2,214.6 175.7,214.6 176.2,214.6 176.7,214.6 177.2,214.6 177.7,214.6 178.2,214.6 178.7,214.6 179.2,214.6 179.7,214.6 180.2,214.6 180.7,214.7 181.2,214.7 181.7,214.7 182.2,214.7 182.7,214.7 183.2,214.7 183.7,214.7 184.2,214.7 184.7,214.7 185.2,214.7 185.7,214.7 186.2,214.7 186.7,214.7 187.2,214.7 187.7,214.7 188.2,214.8 188.7,214.8 189.2,214.8 189.7,214.8 190.2,214.8 190.7,214.8 191.2,214.8 191.7,214.8 192.2,214.8 192.7,214.8 193.2,214.8 193.7,214.8 194.2,214.8 194.7,214.8 195.2,214.8 195.7,214.9 196.2,214.9 196.7,214.9 197.2,214.9 197.7,214.9 198.2,214.9 198.7,214.9 199.2,214.9 199.7,214.9 200.2,214.9 200.7,214.9 201.2,214.9 201.7,214.9 202.2,214.9 202.7,214.9 203.2,214.9 203.7,214.9 204.2,214.9 204.7,215.0 205.2,215.0 205.7,215.0 206.2,215.0 206.7,215.0 207.2,215.0 207.7,215.0 208.2,215.0 208.7,215.0 209.2,215.0 209.7,215.0 210.2,215.0 210.7,215.0 211.2,215.0 211.7,215.0 212.2,215.0 212.7,215.0 213.2,215.0 213.7,215.0 214.2,215.0 214.7,215.0 215.2,215.0 215.7,215.1 216.2,215.1 216.7,215.1 217.2,215.1 217.7,215.1 218.2,215.1 218.7,215.1 219.2,215.1 219.7,215.1 220.2,215.1 220.7,215.1 221.2,215.1 221.7,215.1 222.2,215.1 222.7,215.1 223.2,215.1 223.7,215.1 224.2,215.1 224.7,215.1 225.2,215.1 225.7,215.1 226.2,215.1 226.7,215.1 227.2,215.2 227.7,215.2 228.2,215.2 228.7,215.2 229.2,215.2 229.7,215.2 230.2,215.2 230.7,215.2 231.2,215.2 231.7,215.2 232.2,215.2 232.7,215.2 233.2,215.2 233.7,215.2 234.2,215.2 234.7,215.2 235.2,215.2 235.7,215.2 236.2,215.2 236.7,215.2 237.2,215.2 237.7,215.2 238.2,215.2 238.7,215.2 239.2,215.3 239.7,215.3 240.2,215.3 240.7,215.3 241.2,215.3 241.7,215.3 242.2,215.3 242.7,215.3 243.2,215.3 243.7,215.3 244.2,215.3 244.7,215.3 245.2,215.3 245.7,215.3 246.2,215.3 246.7,215.3 247.2,215.3 247.7,215.3 248.2,215.3 248.7,215.3 249.2,215.3 249.7,215.3 250.2,215.3 250.7,215.3 251.2,215.3 251.7,215.3 252.2,215.4 252.7,215.4 253.2,215.4 253.7,215.4 254.2,215.4 254.7,215.4 255.2,215.4 255.7,215.4 256.2,215.4 256.7,215.4 257.2,215.4 257.7,215.4 258.2,215.4 258.7,215.4 259.2,215.4 259.7,215.4 260.2,215.4 260.7,215.4 261.2,215.4 261.7,215.4 262.2,215.4 262.7,215.4 263.2,215.4 263.7,215.4 264.2,215.4 264.7,215.4 265.2,215.4 265.7,215.4 266.2,215.4 266.7,215.4 267.2,215.4 267.7,215.4 268.2,215.4 268.7,215.4 269.2,215.5 269.7,215.5 270.2,215.5 270.7,215.5 271.2,215.5 271.7,215.5 272.2,215.5 272.7,215.5 273.2,215.5 273.7,215.5 274.2,215.5 274.7,215.5 275.2,215.5 275.7,215.5 276.2,215.5 276.7,215.5 277.2,215.5 277.7,215.5 278.2,215.5 278.7,215.5 279.2,215.5 279.7,215.5 280.2,215.5 280.7,215.5 281.2,215.5 281.7,215.5 282.2,215.5 282.7,215.5 283.2,215.5 283.7,215.5 284.2,215.5 284.7,215.5 285.2,215.5 285.7,215.5 286.2,215.5 286.7,215.5 287.2,215.5 287.7,215.5 288.2,215.5 288.7,215.5 289.2,215.5 289.7,215.5 290.2,215.5 290.7,215.5 291.2,215.5 291.7,215.5 292.2,215.5 292.7,215.5 293.2,215.5 293.7,215.5 294.2,215.5 294.7,215.5 295.2,215.5 295.7,215.5 296.2,215.5 296.7,215.5 297.2,215.5 297.7,215.5 298.2,215.5 298.7,215.5 299.2,215.5 299.7,215.5 300.2,215.5 300.7,215.5 301.2,215.5 301.7,215.5 302.2,215.5 302.7,215.5 303.2,215.5 303.7,215.5 304.2,215.5 304.7,215.5 305.2,215.5 305.7,215.5 306.2,215.5 306.7,215.5 307.2,215.5 307.7,215.5 308.2,215.5 308.7,215.5 309.2,215.5 309.7,215.5 310.2,215.5 310.7,215.5 311.2,215.5 311.7,215.5 312.2,215.5 312.7,215.5 313.2,215.5 313.7,215.5 314.2,215.5 314.7,215.5 315.2,215.5 315.7,215.5 316.2,215.5 316.7,215.5 317.2,215.5 317.7,215.5 318.2,215.5 318.7,215.5 319.2,215.5 319.7,215.5 320.2,215.5 320.7,215.5 321.2,215.5 321.7,215.5 322.2,215.5 322.7,215.5 323.2,215.5 323.7,215.5 324.2,215.5 324.7,215.5 325.2,215.5 325.7,215.5 326.2,215.5 326.7,215.5 327.2,215.5 327.7,215.5 328.2,215.5 328.7,215.5 329.2,215.5 329.7,215.5 330.2,215.5 330.7,215.5 331.2,215.5 331.7,215.5 332.2,215.5 332.7,215.5 333.2,215.5 333.7,215.5 334.2,215.5 334.7,215.5 335.2,215.5 335.7,215.5 336.2,215.4 336.7,215.4 337.2,215.3 337.7,215.2 338.2,215.1 338.7,215.0 339.2,214.9 339.7,214.8 340.2,214.7 340.7,214.7 341.2,214.7 341.7,214.8 342.2,214.9 342.7,215.0 343.2,215.2 343.7,215.3 344.2,215.3 344.7,215.4 345.2,215.4 345.7,215.5 346.2,215.5 346.7,215.5 347.2,215.5 347.7,215.5 348.2,215.5 348.7,215.5 349.2,215.5 349.7,215.5 350.2,215.5 350.7,215.5 351.2,215.5 351.7,215.5 352.2,215.5 352.7,215.5 353.2,215.5 353.7,215.5 354.2,215.5 354.7,215.5 355.2,215.5 355.7,215.5 356.2,215.5 356.7,215.5 357.2,215.5 357.7,215.5 358.2,215.5 358.7,215.5 359.2,215.5 359.7,215.5 360.2,215.5 360.7,215.5 361.2,215.5 361.7,215.5 362.2,215.5 362.7,215.5 363.2,215.5 363.7,215.5 364.2,215.5 364.7,215.5 365.2,215.5 365.7,215.5 366.2,215.5 366.7,215.5 367.2,215.5 367.7,215.5 368.2,215.5 368.7,215.5 369.2,215.5 369.7,215.5 370.2,215.5 370.7,215.5 371.2,215.5 371.7,215.5 372.2,215.5 372.7,215.5 373.2,215.5 373.7,215.5 374.2,215.5 374.7,215.5 375.2,215.5 375.7,215.5 376.2,215.5 376.7,215.5 377.2,215.5 377.7,215.5 378.2,215.5 378.7,215.5 379.2,215.5 379.7,215.5 380.2,215.5 380.7,215.5 381.2,215.5 381.7,215.5 382.2,215.5 382.7,215.5 383.2,215.5 383.7,215.5 384.2,215.5 384.7,215.5 385.2,215.5 385.7,215.5 386.2,215.5 386.7,215.5 387.2,215.5 387.7,215.5 388.2,215.5 388.7,215.5 389.2,215.5 389.7,215.5 390.2,215.5 390.7,215.5 391.2,215.5 391.7,215.5 392.2,215.5 392.7,215.5 393.2,215.5 393.7,215.5 394.2,215.5 394.7,215.5 395.2,215.5 395.7,215.5 396.2,215.5 396.7,215.5 397.2,215.5 397.7,215.5 398.2,215.5 398.7,215.5 399.2,215.5 399.7,215.5 400.2,215.5 400.7,215.5 401.2,215.5 401.7,215.5 402.2,215.5 402.7,215.5 403.2,215.5 403.7,215.5 404.2,215.5 404.7,215.5 405.2,215.5 405.7,215.5 406.2,215.5 406.7,215.5 407.2,215.5 407.7,215.5 408.2,215.5 408.7,215.5 409.2,215.5 409.7,215.5 410.2,215.5 410.7,215.5 411.2,215.5 411.7,215.5 412.2,215.5 412.7,215.5 413.2,215.5 413.7,215.5 414.2,215.5 414.7,215.5 415.2,215.6 415.7,215.6 416.2,215.6 416.7,215.6 417.2,215.6 417.7,215.6 418.2,215.6 418.7,215.6 419.2,215.6 419.7,215.6 420.2,215.6 420.7,215.6 421.2,215.6 421.7,215.6 422.2,215.6 422.7,215.6 423.2,215.6 423.7,215.6 424.2,215.6 424.7,215.6 425.2,215.6 425.7,215.6 426.2,215.6 426.7,215.6 427.2,215.6 427.7,215.6 428.2,215.6 428.7,215.6 429.2,215.6 429.7,215.6 430.2,215.6 430.7,215.6 431.2,215.6 431.7,215.6 432.2,215.6 432.7,215.6 433.2,215.6 433.7,215.6 434.2,215.6 434.7,215.6 435.2,215.6 435.7,215.6 436.2,215.6 436.7,215.6 437.2,215.6 437.7,215.6 438.2,215.6 438.7,215.6 439.2,215.6 439.7,215.6 440.2,215.6 440.7,215.6 441.2,215.6 441.7,215.6 442.2,215.6 442.7,215.6 443.2,215.6 443.7,215.6 444.2,215.6 444.7,215.6 445.2,215.6 445.7,215.6 446.2,215.6 446.7,215.6 447.2,215.6 447.7,215.6 448.2,215.6 448.7,215.6 449.2,215.6 449.7,215.6 450.2,215.6 450.7,215.6 451.2,215.6 451.7,215.6 452.2,215.6 452.7,215.6 453.2,215.6 453.7,215.6 454.2,215.6 454.7,215.6 455.2,215.6 455.7,215.6 456.2,215.6 456.7,215.6 457.2,215.6 457.7,215.6 458.2,215.6 458.7,215.6 459.2,215.6 459.7,215.6 460.2,215.6 460.7,215.6 461.2,215.6 461.7,215.6 462.2,215.6 462.7,215.6 463.2,215.6 463.7,215.6 464.2,215.6 464.7,215.6 465.2,215.6 465.7,215.6 466.2,215.6 466.7,215.6 467.2,215.6 467.7,215.6 468.2,215.6 468.7,215.6 469.2,215.6 469.7,215.6 470.2,215.6 470.7,215.6 471.2,215.6 471.7,215.6 472.2,215.6 472.7,215.6 473.2,215.6 473.7,215.6 474.2,215.6 474.7,215.6 475.2,215.6 475.7,215.6 476.2,215.6 476.7,215.6 477.2,215.6 477.7,215.6 478.2,215.6 478.7,215.6 479.2,215.6 479.7,215.6 480.2,215.6 480.7,215.6 481.2,215.6 481.7,215.6 482.2,215.6 482.7,215.6 483.2,215.6 483.7,215.6 484.2,215.6 484.7,215.6 485.2,215.6 485.7,215.6 486.2,215.6 486.7,215.6 487.2,215.6 487.7,215.6 488.2,215.6 488.7,215.6 489.2,215.6 489.7,215.6 490.2,215.6 490.7,215.6 491.2,215.6 491.7,215.6 492.2,215.6 492.7,215.6 493.2,215.6 493.7,215.6 494.2,215.6 494.7,215.6 495.2,215.6 495.7,215.6 496.2,215.6 496.7,215.6 497.2,215.6 497.7,215.6 498.2,215.6 498.7,215.6 499.2,215.6 499.7,215.6 500.2,215.6 500.7,215.6 501.2,215.6 501.7,215.6 502.2,215.6 502.7,215.6 503.2,215.6 503.7,215.6 504.2,215.6 504.7,215.6 505.2,215.6 505.7,215.6 506.2,215.6 506.7,215.6 507.2,215.6 507.7,215.6 508.2,215.6 508.7,215.6 509.2,215.6 509.7,215.6 510.2,215.6 510.7,215.6 511.2,215.6 511.7,215.6 512.2,215.6 512.7,215.6 513.2,215.6 513.7,215.6 514.2,215.6 514.7,215.6 515.2,215.6 515.7,215.6 516.2,215.6 516.7,215.6 517.2,215.6 517.7,215.6 518.2,215.6 518.7,215.6 519.2,215.6" fill="none" stroke="#f6d0aa" stroke-width="1.5" stroke-linejoin="round" clip-path="url(#ca2)"/><polyline points="13.2,196.0 13.7,198.2 14.2,200.0 14.7,201.2 15.2,201.5 15.7,201.3 16.2,201.0 16.7,200.8 17.2,200.7 17.7,200.7 18.2,200.7 18.7,200.6 19.2,198.4 19.7,181.1 20.2,98.3 20.7,-140.0 21.2,-525.0 21.7,-789.9 22.2,-666.1 22.7,-285.4 23.2,26.3 23.7,161.1 24.2,195.5 24.7,200.9 25.2,201.4 25.7,201.4 26.2,201.4 26.7,201.3 27.2,201.3 27.7,201.2 28.2,200.8 28.7,199.6 29.2,196.5 29.7,191.1 30.2,185.2 30.7,182.6 31.2,185.4 31.7,191.6 32.2,197.2 32.7,200.4 33.2,201.6 33.7,201.9 34.2,202.0 34.7,202.0 35.2,202.0 35.7,201.9 36.2,201.9 36.7,201.9 37.2,201.8 37.7,201.8 38.2,201.8 38.7,201.7 39.2,201.7 39.7,201.6 40.2,201.6 40.7,201.5 41.2,201.5 41.7,201.5 42.2,201.4 42.7,201.4 43.2,201.3 43.7,201.3 44.2,201.2 44.7,201.2 45.2,201.1 45.7,201.1 46.2,201.1 46.7,201.0 47.2,201.0 47.7,201.0 48.2,201.0 48.7,200.9 49.2,200.9 49.7,200.9 50.2,200.9 50.7,200.9 51.2,200.9 51.7,200.9 52.2,200.9 52.7,200.9 53.2,200.9 53.7,200.9 54.2,200.9 54.7,200.9 55.2,200.8 55.7,200.8 56.2,200.8 56.7,200.8 57.2,200.8 57.7,200.8 58.2,200.8 58.7,200.8 59.2,200.8 59.7,200.8 60.2,200.8 60.7,200.8 61.2,200.8 61.7,200.8 62.2,200.8 62.7,200.8 63.2,200.8 63.7,200.8 64.2,200.8 64.7,200.8 65.2,200.8 65.7,200.8 66.2,200.8 66.7,200.8 67.2,200.8 67.7,200.8 68.2,200.8 68.7,200.8 69.2,200.8 69.7,200.8 70.2,200.8 70.7,200.8 71.2,200.8 71.7,200.8 72.2,200.8 72.7,200.8 73.2,200.8 73.7,200.8 74.2,200.8 74.7,200.9 75.2,200.9 75.7,200.9 76.2,200.9 76.7,200.9 77.2,200.9 77.7,200.9 78.2,200.9 78.7,200.8 79.2,200.8 79.7,200.7 80.2,200.6 80.7,200.4 81.2,200.0 81.7,199.6 82.2,199.1 82.7,198.6 83.2,198.1 83.7,197.7 84.2,197.5 84.7,197.5 85.2,197.7 85.7,198.1 86.2,198.6 86.7,199.1 87.2,199.6 87.7,200.1 88.2,200.4 88.7,200.7 89.2,200.9 89.7,201.0 90.2,201.0 90.7,201.1 91.2,201.1 91.7,201.1 92.2,201.1 92.7,201.1 93.2,201.1 93.7,201.2 94.2,201.2 94.7,201.2 95.2,201.2 95.7,201.2 96.2,201.2 96.7,201.2 97.2,201.2 97.7,201.2 98.2,201.2 98.7,201.2 99.2,201.2 99.7,201.2 100.2,201.3 100.7,201.3 101.2,201.3 101.7,201.3 102.2,201.3 102.7,201.3 103.2,201.3 103.7,201.3 104.2,201.3 104.7,201.3 105.2,201.3 105.7,201.3 106.2,201.3 106.7,201.3 107.2,201.4 107.7,201.4 108.2,201.4 108.7,201.4 109.2,201.4 109.7,201.4 110.2,201.4 110.7,201.4 111.2,201.4 111.7,201.4 112.2,201.4 112.7,201.4 113.2,201.4 113.7,201.5 114.2,201.5 114.7,201.5 115.2,201.5 115.7,201.5 116.2,201.5 116.7,201.5 117.2,201.5 117.7,201.5 118.2,201.5 118.7,201.5 119.2,201.5 119.7,201.6 120.2,201.6 120.7,201.6 121.2,201.6 121.7,201.6 122.2,201.6 122.7,201.6 123.2,201.6 123.7,201.6 124.2,201.6 124.7,201.6 125.2,201.7 125.7,201.7 126.2,201.7 126.7,201.7 127.2,201.7 127.7,201.7 128.2,201.7 128.7,201.7 129.2,201.7 129.7,201.7 130.2,201.7 130.7,201.7 131.2,201.8 131.7,201.8 132.2,201.8 132.7,201.8 133.2,201.8 133.7,201.8 134.2,201.8 134.7,201.8 135.2,201.8 135.7,201.8 136.2,201.8 136.7,201.9 137.2,201.9 137.7,201.9 138.2,201.9 138.7,201.9 139.2,201.9 139.7,201.9 140.2,201.9 140.7,201.9 141.2,201.9 141.7,201.9 142.2,202.0 142.7,202.0 143.2,202.0 143.7,202.0 144.2,202.0 144.7,202.0 145.2,202.0 145.7,202.0 146.2,202.0 146.7,202.0 147.2,202.0 147.7,202.1 148.2,202.1 148.7,202.1 149.2,202.1 149.7,202.1 150.2,202.1 150.7,202.1 151.2,202.1 151.7,202.1 152.2,202.1 152.7,202.1 153.2,202.2 153.7,202.2 154.2,202.2 154.7,202.2 155.2,202.2 155.7,202.2 156.2,202.2 156.7,202.2 157.2,202.2 157.7,202.2 158.2,202.2 158.7,202.3 159.2,202.3 159.7,202.3 160.2,202.3 160.7,202.3 161.2,202.3 161.7,202.3 162.2,202.3 162.7,202.3 163.2,202.3 163.7,202.3 164.2,202.3 164.7,202.4 165.2,202.4 165.7,202.4 166.2,202.4 166.7,202.4 167.2,202.4 167.7,202.4 168.2,202.4 168.7,202.4 169.2,202.4 169.7,202.4 170.2,202.4 170.7,202.4 171.2,202.5 171.7,202.5 172.2,202.5 172.7,202.5 173.2,202.5 173.7,202.5 174.2,202.5 174.7,202.5 175.2,202.5 175.7,202.5 176.2,202.5 176.7,202.5 177.2,202.5 177.7,202.6 178.2,202.6 178.7,202.6 179.2,202.6 179.7,202.6 180.2,202.6 180.7,202.6 181.2,202.6 181.7,202.6 182.2,202.6 182.7,202.6 183.2,202.6 183.7,202.6 184.2,202.6 184.7,202.7 185.2,202.7 185.7,202.7 186.2,202.7 186.7,202.7 187.2,202.7 187.7,202.7 188.2,202.7 188.7,202.7 189.2,202.7 189.7,202.7 190.2,202.7 190.7,202.7 191.2,202.7 191.7,202.7 192.2,202.7 192.7,202.8 193.2,202.8 193.7,202.8 194.2,202.8 194.7,202.8 195.2,202.8 195.7,202.8 196.2,202.8 196.7,202.8 197.2,202.8 197.7,202.8 198.2,202.8 198.7,202.8 199.2,202.8 199.7,202.8 200.2,202.8 200.7,202.8 201.2,202.8 201.7,202.8 202.2,202.8 202.7,202.8 203.2,202.9 203.7,202.9 204.2,202.9 204.7,202.9 205.2,202.9 205.7,202.9 206.2,202.9 206.7,202.9 207.2,202.9 207.7,202.9 208.2,202.9 208.7,202.9 209.2,202.9 209.7,202.9 210.2,202.9 210.7,202.9 211.2,202.9 211.7,202.9 212.2,202.9 212.7,202.9 213.2,202.9 213.7,202.9 214.2,202.9 214.7,202.9 215.2,202.9 215.7,202.9 216.2,202.9 216.7,202.9 217.2,202.9 217.7,202.9 218.2,202.9 218.7,202.9 219.2,202.9 219.7,203.0 220.2,203.0 220.7,203.0 221.2,203.0 221.7,203.0 222.2,203.0 222.7,203.0 223.2,203.0 223.7,203.0 224.2,203.0 224.7,203.0 225.2,203.0 225.7,203.0 226.2,203.0 226.7,203.0 227.2,203.0 227.7,203.0 228.2,203.0 228.7,203.0 229.2,203.0 229.7,203.0 230.2,203.0 230.7,203.0 231.2,203.0 231.7,203.0 232.2,203.0 232.7,203.0 233.2,203.0 233.7,203.0 234.2,203.0 234.7,203.0 235.2,203.0 235.7,203.0 236.2,203.0 236.7,203.0 237.2,203.0 237.7,203.0 238.2,203.0 238.7,203.0 239.2,203.0 239.7,203.0 240.2,203.0 240.7,203.0 241.2,203.0 241.7,203.0 242.2,203.0 242.7,203.1 243.2,203.1 243.7,203.1 244.2,203.1 244.7,203.1 245.2,203.1 245.7,203.1 246.2,203.1 246.7,203.1 247.2,203.1 247.7,203.1 248.2,203.1 248.7,203.1 249.2,203.1 249.7,203.1 250.2,203.1 250.7,203.1 251.2,203.1 251.7,203.1 252.2,203.1 252.7,203.1 253.2,203.1 253.7,203.1 254.2,203.1 254.7,203.1 255.2,203.1 255.7,203.1 256.2,203.1 256.7,203.1 257.2,203.1 257.7,203.1 258.2,203.1 258.7,203.1 259.2,203.1 259.7,203.1 260.2,203.1 260.7,203.1 261.2,203.1 261.7,203.1 262.2,203.1 262.7,203.1 263.2,203.1 263.7,203.1 264.2,203.1 264.7,203.1 265.2,203.1 265.7,203.1 266.2,203.1 266.7,203.1 267.2,203.1 267.7,203.1 268.2,203.1 268.7,203.1 269.2,203.1 269.7,203.1 270.2,203.1 270.7,203.1 271.2,203.1 271.7,203.1 272.2,203.1 272.7,203.1 273.2,203.1 273.7,203.1 274.2,203.2 274.7,203.2 275.2,203.2 275.7,203.2 276.2,203.2 276.7,203.2 277.2,203.2 277.7,203.2 278.2,203.2 278.7,203.2 279.2,203.2 279.7,203.2 280.2,203.2 280.7,203.2 281.2,203.2 281.7,203.2 282.2,203.2 282.7,203.2 283.2,203.2 283.7,203.2 284.2,203.2 284.7,203.2 285.2,203.2 285.7,203.2 286.2,203.2 286.7,203.2 287.2,203.2 287.7,203.2 288.2,203.2 288.7,203.2 289.2,203.2 289.7,203.2 290.2,203.2 290.7,203.2 291.2,203.2 291.7,203.2 292.2,203.2 292.7,203.2 293.2,203.2 293.7,203.2 294.2,203.2 294.7,203.2 295.2,203.2 295.7,203.2 296.2,203.2 296.7,203.2 297.2,203.2 297.7,203.2 298.2,203.2 298.7,203.2 299.2,203.2 299.7,203.2 300.2,203.2 300.7,203.2 301.2,203.2 301.7,203.2 302.2,203.2 302.7,203.2 303.2,203.2 303.7,203.2 304.2,203.2 304.7,203.2 305.2,203.2 305.7,203.3 306.2,203.3 306.7,203.3 307.2,203.3 307.7,203.3 308.2,203.3 308.7,203.3 309.2,203.3 309.7,203.3 310.2,203.3 310.7,203.3 311.2,203.3 311.7,203.3 312.2,203.3 312.7,203.3 313.2,203.3 313.7,203.3 314.2,203.3 314.7,203.3 315.2,203.3 315.7,203.3 316.2,203.3 316.7,203.3 317.2,203.3 317.7,203.3 318.2,203.3 318.7,203.3 319.2,203.3 319.7,203.3 320.2,203.3 320.7,203.3 321.2,203.3 321.7,203.3 322.2,203.3 322.7,203.3 323.2,203.3 323.7,203.3 324.2,203.3 324.7,203.3 325.2,203.3 325.7,203.3 326.2,203.3 326.7,203.3 327.2,203.3 327.7,203.3 328.2,203.3 328.7,203.3 329.2,203.3 329.7,203.3 330.2,203.3 330.7,203.3 331.2,203.3 331.7,203.3 332.2,203.3 332.7,203.3 333.2,203.3 333.7,203.3 334.2,203.3 334.7,203.3 335.2,203.3 335.7,203.3 336.2,203.3 336.7,203.2 337.2,203.2 337.7,203.1 338.2,203.0 338.7,202.8 339.2,202.7 339.7,202.6 340.2,202.6 340.7,202.6 341.2,202.6 341.7,202.7 342.2,202.8 342.7,202.9 343.2,203.0 343.7,203.1 344.2,203.2 344.7,203.3 345.2,203.3 345.7,203.3 346.2,203.4 346.7,203.4 347.2,203.4 347.7,203.4 348.2,203.4 348.7,203.4 349.2,203.4 349.7,203.4 350.2,203.4 350.7,203.4 351.2,203.4 351.7,203.4 352.2,203.4 352.7,203.4 353.2,203.4 353.7,203.4 354.2,203.4 354.7,203.4 355.2,203.4 355.7,203.4 356.2,203.4 356.7,203.4 357.2,203.4 357.7,203.4 358.2,203.4 358.7,203.4 359.2,203.4 359.7,203.4 360.2,203.4 360.7,203.4 361.2,203.4 361.7,203.4 362.2,203.4 362.7,203.4 363.2,203.4 363.7,203.4 364.2,203.4 364.7,203.4 365.2,203.4 365.7,203.4 366.2,203.4 366.7,203.4 367.2,203.4 367.7,203.4 368.2,203.4 368.7,203.4 369.2,203.4 369.7,203.4 370.2,203.4 370.7,203.4 371.2,203.4 371.7,203.4 372.2,203.4 372.7,203.4 373.2,203.4 373.7,203.4 374.2,203.4 374.7,203.4 375.2,203.4 375.7,203.4 376.2,203.4 376.7,203.4 377.2,203.4 377.7,203.4 378.2,203.4 378.7,203.4 379.2,203.4 379.7,203.4 380.2,203.4 380.7,203.4 381.2,203.5 381.7,203.5 382.2,203.5 382.7,203.5 383.2,203.5 383.7,203.5 384.2,203.5 384.7,203.5 385.2,203.5 385.7,203.5 386.2,203.5 386.7,203.5 387.2,203.5 387.7,203.5 388.2,203.5 388.7,203.5 389.2,203.5 389.7,203.5 390.2,203.5 390.7,203.5 391.2,203.5 391.7,203.5 392.2,203.5 392.7,203.5 393.2,203.5 393.7,203.5 394.2,203.5 394.7,203.5 395.2,203.5 395.7,203.5 396.2,203.5 396.7,203.5 397.2,203.5 397.7,203.5 398.2,203.5 398.7,203.5 399.2,203.5 399.7,203.5 400.2,203.5 400.7,203.5 401.2,203.5 401.7,203.5 402.2,203.5 402.7,203.5 403.2,203.5 403.7,203.5 404.2,203.5 404.7,203.5 405.2,203.5 405.7,203.5 406.2,203.5 406.7,203.5 407.2,203.5 407.7,203.5 408.2,203.5 408.7,203.5 409.2,203.5 409.7,203.5 410.2,203.5 410.7,203.5 411.2,203.5 411.7,203.5 412.2,203.5 412.7,203.5 413.2,203.5 413.7,203.5 414.2,203.5 414.7,203.5 415.2,203.5 415.7,203.5 416.2,203.5 416.7,203.5 417.2,203.5 417.7,203.5 418.2,203.5 418.7,203.5 419.2,203.5 419.7,203.5 420.2,203.5 420.7,203.5 421.2,203.5 421.7,203.5 422.2,203.5 422.7,203.5 423.2,203.5 423.7,203.5 424.2,203.6 424.7,203.6 425.2,203.6 425.7,203.6 426.2,203.6 426.7,203.6 427.2,203.6 427.7,203.6 428.2,203.6 428.7,203.6 429.2,203.6 429.7,203.6 430.2,203.6 430.7,203.6 431.2,203.6 431.7,203.6 432.2,203.6 432.7,203.6 433.2,203.6 433.7,203.6 434.2,203.6 434.7,203.6 435.2,203.6 435.7,203.6 436.2,203.6 436.7,203.6 437.2,203.6 437.7,203.6 438.2,203.6 438.7,203.6 439.2,203.6 439.7,203.6 440.2,203.6 440.7,203.6 441.2,203.6 441.7,203.6 442.2,203.6 442.7,203.6 443.2,203.6 443.7,203.6 444.2,203.6 444.7,203.6 445.2,203.6 445.7,203.6 446.2,203.6 446.7,203.6 447.2,203.6 447.7,203.6 448.2,203.6 448.7,203.6 449.2,203.6 449.7,203.6 450.2,203.6 450.7,203.6 451.2,203.6 451.7,203.6 452.2,203.6 452.7,203.6 453.2,203.6 453.7,203.6 454.2,203.6 454.7,203.6 455.2,203.6 455.7,203.6 456.2,203.6 456.7,203.6 457.2,203.6 457.7,203.6 458.2,203.6 458.7,203.6 459.2,203.6 459.7,203.6 460.2,203.6 460.7,203.6 461.2,203.6 461.7,203.6 462.2,203.6 462.7,203.6 463.2,203.6 463.7,203.6 464.2,203.6 464.7,203.6 465.2,203.6 465.7,203.6 466.2,203.6 466.7,203.6 467.2,203.6 467.7,203.6 468.2,203.6 468.7,203.6 469.2,203.6 469.7,203.6 470.2,203.6 470.7,203.6 471.2,203.6 471.7,203.6 472.2,203.6 472.7,203.6 473.2,203.6 473.7,203.6 474.2,203.6 474.7,203.6 475.2,203.6 475.7,203.6 476.2,203.6 476.7,203.6 477.2,203.6 477.7,203.6 478.2,203.6 478.7,203.6 479.2,203.6 479.7,203.6 480.2,203.6 480.7,203.6 481.2,203.6 481.7,203.6 482.2,203.6 482.7,203.6 483.2,203.6 483.7,203.6 484.2,203.6 484.7,203.6 485.2,203.6 485.7,203.6 486.2,203.6 486.7,203.6 487.2,203.6 487.7,203.6 488.2,203.6 488.7,203.6 489.2,203.6 489.7,203.6 490.2,203.6 490.7,203.6 491.2,203.6 491.7,203.6 492.2,203.6 492.7,203.6 493.2,203.6 493.7,203.6 494.2,203.6 494.7,203.6 495.2,203.6 495.7,203.6 496.2,203.6 496.7,203.6 497.2,203.6 497.7,203.6 498.2,203.6 498.7,203.6 499.2,203.6 499.7,203.6 500.2,203.6 500.7,203.6 501.2,203.6 501.7,203.6 502.2,203.6 502.7,203.6 503.2,203.6 503.7,203.6 504.2,203.6 504.7,203.6 505.2,203.6 505.7,203.6 506.2,203.6 506.7,203.6 507.2,203.6 507.7,203.6 508.2,203.6 508.7,203.6 509.2,203.6 509.7,203.6 510.2,203.6 510.7,203.6 511.2,203.6 511.7,203.6 512.2,203.6 512.7,203.6 513.2,203.6 513.7,203.6 514.2,203.6 514.7,203.6 515.2,203.6 515.7,203.6 516.2,203.6 516.7,203.6 517.2,203.6 517.7,203.6 518.2,203.6 518.7,203.6 519.2,203.6" fill="none" stroke="#a8a6ee" stroke-width="1.5" stroke-linejoin="round" clip-path="url(#ca2)"/><rect x="19" y="64.4" width="5.6" height="118" fill="#fff" fill-opacity="0.3"/><line x1="22" y1="5.7" x2="22" y2="60.7" stroke="#8f8bd8" stroke-width="1.8"/><line x1="22" y1="5.7" x2="22" y2="9" stroke="#a8dca0" stroke-width="1.8"/><line x1="12.7" y1="222.0" x2="519.2" y2="222.0" stroke="#333" stroke-width="1.3"/><line x1="12.70" y1="222.0" x2="12.70" y2="226.2" stroke="#333" stroke-width="1.1"/><line x1="29.59" y1="222.0" x2="29.59" y2="224.2" stroke="#333" stroke-width="1.1"/><line x1="46.47" y1="222.0" x2="46.47" y2="226.2" stroke="#333" stroke-width="1.1"/><line x1="63.36" y1="222.0" x2="63.36" y2="224.2" stroke="#333" stroke-width="1.1"/><line x1="80.24" y1="222.0" x2="80.24" y2="226.2" stroke="#333" stroke-width="1.1"/><line x1="97.13" y1="222.0" x2="97.13" y2="224.2" stroke="#333" stroke-width="1.1"/><line x1="114.01" y1="222.0" x2="114.01" y2="226.2" stroke="#333" stroke-width="1.1"/><line x1="130.90" y1="222.0" x2="130.90" y2="224.2" stroke="#333" stroke-width="1.1"/><line x1="147.78" y1="222.0" x2="147.78" y2="226.2" stroke="#333" stroke-width="1.1"/><line x1="164.66" y1="222.0" x2="164.66" y2="224.2" stroke="#333" stroke-width="1.1"/><line x1="181.55" y1="222.0" x2="181.55" y2="226.2" stroke="#333" stroke-width="1.1"/><line x1="198.44" y1="222.0" x2="198.44" y2="224.2" stroke="#333" stroke-width="1.1"/><line x1="215.32" y1="222.0" x2="215.32" y2="226.2" stroke="#333" stroke-width="1.1"/><line x1="232.21" y1="222.0" x2="232.21" y2="224.2" stroke="#333" stroke-width="1.1"/><line x1="249.09" y1="222.0" x2="249.09" y2="226.2" stroke="#333" stroke-width="1.1"/><line x1="265.98" y1="222.0" x2="265.98" y2="224.2" stroke="#333" stroke-width="1.1"/><line x1="282.86" y1="222.0" x2="282.86" y2="226.2" stroke="#333" stroke-width="1.1"/><line x1="299.75" y1="222.0" x2="299.75" y2="224.2" stroke="#333" stroke-width="1.1"/><line x1="316.63" y1="222.0" x2="316.63" y2="226.2" stroke="#333" stroke-width="1.1"/><line x1="333.52" y1="222.0" x2="333.52" y2="224.2" stroke="#333" stroke-width="1.1"/><line x1="350.40" y1="222.0" x2="350.40" y2="226.2" stroke="#333" stroke-width="1.1"/><line x1="367.29" y1="222.0" x2="367.29" y2="224.2" stroke="#333" stroke-width="1.1"/><line x1="384.17" y1="222.0" x2="384.17" y2="226.2" stroke="#333" stroke-width="1.1"/><line x1="401.06" y1="222.0" x2="401.06" y2="224.2" stroke="#333" stroke-width="1.1"/><line x1="417.94" y1="222.0" x2="417.94" y2="226.2" stroke="#333" stroke-width="1.1"/><line x1="434.83" y1="222.0" x2="434.83" y2="224.2" stroke="#333" stroke-width="1.1"/><line x1="451.71" y1="222.0" x2="451.71" y2="226.2" stroke="#333" stroke-width="1.1"/><line x1="468.60" y1="222.0" x2="468.60" y2="224.2" stroke="#333" stroke-width="1.1"/><line x1="485.48" y1="222.0" x2="485.48" y2="226.2" stroke="#333" stroke-width="1.1"/><line x1="502.37" y1="222.0" x2="502.37" y2="224.2" stroke="#333" stroke-width="1.1"/><line x1="519.25" y1="222.0" x2="519.25" y2="226.2" stroke="#333" stroke-width="1.1"/><text x="12.70" y="238" font-size="10" text-anchor="middle" class="t">0</text><text x="46.47" y="238" font-size="10" text-anchor="middle" class="t">1</text><text x="80.24" y="238" font-size="10" text-anchor="middle" class="t">2</text><text x="114.01" y="238" font-size="10" text-anchor="middle" class="t">3</text><text x="147.78" y="238" font-size="10" text-anchor="middle" class="t">4</text><text x="181.55" y="238" font-size="10" text-anchor="middle" class="t">5</text><text x="215.32" y="238" font-size="10" text-anchor="middle" class="t">6</text><text x="249.09" y="238" font-size="10" text-anchor="middle" class="t">7</text><text x="282.86" y="238" font-size="10" text-anchor="middle" class="t">8</text><text x="316.63" y="238" font-size="10" text-anchor="middle" class="t">9</text><text x="350.40" y="238" font-size="10" text-anchor="middle" class="t">10</text><text x="384.17" y="238" font-size="10" text-anchor="middle" class="t">11</text><text x="417.94" y="238" font-size="10" text-anchor="middle" class="t">12</text><text x="451.71" y="238" font-size="10" text-anchor="middle" class="t">13</text><text x="485.48" y="238" font-size="10" text-anchor="middle" class="t">14</text><text x="519.25" y="238" font-size="10" text-anchor="middle" class="t">15</text><text x="266.9" y="257.6" font-size="14.4" text-anchor="middle" class="t">Energy (keV)</text><text x="4.8" y="24.5" font-size="17.3" class="t">A</text><rect x="318.7" y="23.8" width="168.2" height="65.2" fill="#fff" stroke="#9a9a9a" stroke-width="1"/><line x1="320.2" y1="32.3" x2="348.8" y2="32.3" stroke="#a6e9a6" stroke-width="1.1"/><text x="352.9" y="36.94" font-size="12.9" class="l">Steel Fiber</text><line x1="320.2" y1="48.2" x2="348.8" y2="48.2" stroke="#a09eec" stroke-width="1.1"/><text x="352.9" y="52.84" font-size="12.9" class="l">Hexcel Carbon Fiber</text><line x1="320.2" y1="64.3" x2="348.8" y2="64.3" stroke="#9cc7a0" stroke-width="1.1"/><text x="352.9" y="68.94" font-size="12.9" class="l">Zoltek Carbon Fiber</text><line x1="320.2" y1="80.3" x2="348.8" y2="80.3" stroke="#f5cca4" stroke-width="1.1"/><text x="352.9" y="84.94" font-size="12.9" class="l">Recycled Carbon Fiber</text><polygon points="28.70,39.20 46.30,39.20 46.30,58.80 28.70,58.80 28.70,47.20 22.60,49.90 28.70,41.90" fill="#fff" stroke="#1a1a1a" stroke-width="1.3"/><text x="37.50" y="53.82" font-size="12.8" text-anchor="middle" class="t">C</text><polygon points="28.90,102.90 57.50,102.90 57.50,122.80 40.90,122.80 37.43,131.12 33.00,122.80 28.90,122.80" fill="#fff" stroke="#1a1a1a" stroke-width="1.3"/><text x="43.20" y="117.67" font-size="12.8" text-anchor="middle" class="t">Fe</text><polygon points="219.50,39.50 248.80,39.50 248.80,59.40 231.80,59.40 228.41,68.17 223.80,59.40 219.50,59.40" fill="#fff" stroke="#1a1a1a" stroke-width="1.3"/><text x="234.15" y="54.27" font-size="12.8" text-anchor="middle" class="t">Fe</text><polygon points="85.70,157.60 117.30,157.60 117.30,177.80 99.00,177.80 86.60,191.30 90.80,177.80 85.70,177.80" fill="#fff" stroke="#1a1a1a" stroke-width="1.3"/><text x="101.50" y="172.52" font-size="12.8" text-anchor="middle" class="t">Au</text><polygon points="274.70,162.40 306.40,162.40 306.40,182.40 288.20,182.40 284.33,191.49 279.30,182.40 274.70,182.40" fill="#fff" stroke="#1a1a1a" stroke-width="1.3"/><text x="290.55" y="177.22" font-size="12.8" text-anchor="middle" class="t">Cu</text><polygon points="328.90,162.40 361.00,162.40 361.00,181.90 342.60,181.90 338.66,190.17 334.00,181.90 328.90,181.90" fill="#fff" stroke="#1a1a1a" stroke-width="1.3"/><text x="344.95" y="176.97" font-size="12.8" text-anchor="middle" class="t">Au</text><polygon points="372.80,162.50 405.10,162.50 405.10,174.40 443.50,194.40 405.10,179.50 405.10,182.20 372.80,182.20" fill="#fff" stroke="#1a1a1a" stroke-width="1.3"/><text x="388.95" y="177.17" font-size="12.8" text-anchor="middle" class="t">Au</text><line x1="414.4" y1="122.1" x2="414.4" y2="190.8" stroke="#3a3a3a" stroke-width="1"/><polygon points="411.7,189.20000000000002 417.09999999999997,189.20000000000002 414.4,195.8" fill="#111"/><polygon points="408.70,100.70 474.40,100.70 474.40,122.10 408.70,122.10" fill="#fff" stroke="#1a1a1a" stroke-width="1.1"/><text x="441.55" y="115.90" font-size="11.5" text-anchor="middle" class="t">Steel</text><line x1="430.3" y1="145.0" x2="430.3" y2="198.3" stroke="#3a3a3a" stroke-width="1"/><polygon points="427.6,196.70000000000002 433.0,196.70000000000002 430.3,203.3" fill="#111"/><polygon points="423.80,122.60 489.20,122.60 489.20,145.00 423.80,145.00" fill="#fff" stroke="#1a1a1a" stroke-width="1.1"/><text x="456.50" y="138.29" font-size="11.5" text-anchor="middle" class="t">Hexcel</text><line x1="448.5" y1="167.1" x2="448.5" y2="205.1" stroke="#3a3a3a" stroke-width="1"/><polygon points="445.8,203.5 451.2,203.5 448.5,210.1" fill="#111"/><polygon points="441.50,145.00 507.40,145.00 507.40,167.10 441.50,167.10" fill="#fff" stroke="#1a1a1a" stroke-width="1.1"/><text x="474.45" y="160.54" font-size="11.5" text-anchor="middle" class="t">Zoltek</text><line x1="468.5" y1="189.2" x2="468.5" y2="212.0" stroke="#3a3a3a" stroke-width="1"/><polygon points="465.8,210.4 471.2,210.4 468.5,217.0" fill="#111"/><polygon points="456.50,167.10 522.00,167.10 522.00,189.20 456.50,189.20" fill="#fff" stroke="#1a1a1a" stroke-width="1.1"/><text x="489.25" y="182.64" font-size="11.5" text-anchor="middle" class="t">Recycled</text><polyline points="13.4,422.6 13.9,422.0 14.4,421.5 14.9,421.3 15.4,421.2 15.9,421.4 16.4,421.9 16.9,422.6 17.4,423.4 17.9,424.1 18.4,424.6 18.9,425.2 19.4,425.7 19.9,426.2 20.4,426.7 20.9,427.1 21.4,427.5 21.9,427.6 22.4,427.7 22.9,427.7 23.4,427.7 23.9,427.7 24.4,427.6 24.9,427.6 25.4,427.6 25.9,427.6 26.4,427.5 26.9,427.5 27.4,427.4 27.9,427.4 28.4,427.3 28.9,427.3 29.4,427.3 29.9,427.2 30.4,427.2 30.9,427.1 31.4,427.1 31.9,427.0 32.4,426.9 32.9,426.9 33.4,426.8 33.9,426.7 34.4,426.6 34.9,426.5 35.4,426.5 35.9,426.4 36.4,426.3 36.9,426.2 37.4,426.1 37.9,426.1 38.4,426.0 38.9,425.9 39.4,425.9 39.9,425.8 40.4,425.8 40.9,425.7 41.4,425.7 41.9,425.6 42.4,425.6 42.9,425.5 43.4,425.5 43.9,425.4 44.4,425.4 44.9,425.3 45.4,425.3 45.9,425.3 46.4,425.2 46.9,425.2 47.4,425.1 47.9,425.1 48.4,425.0 48.9,424.9 49.4,424.7 49.9,424.6 50.4,424.3 50.9,424.0 51.4,423.6 51.9,423.0 52.4,422.3 52.9,421.5 53.4,420.5 53.9,419.4 54.4,418.1 54.9,416.6 55.4,415.1 55.9,413.6 56.4,412.1 56.9,410.8 57.4,409.6 57.9,408.7 58.4,408.1 58.9,407.9 59.4,408.0 59.9,408.6 60.4,409.4 60.9,410.6 61.4,412.0 61.9,413.5 62.4,415.1 62.9,416.7 63.4,418.2 63.9,419.6 64.4,420.9 64.9,422.0 65.4,423.0 65.9,423.8 66.4,424.4 66.9,424.9 67.4,425.3 67.9,425.6 68.4,425.8 68.9,426.0 69.4,426.1 69.9,426.2 70.4,426.2 70.9,426.2 71.4,426.2 71.9,426.1 72.4,426.0 72.9,425.9 73.4,425.8 73.9,425.7 74.4,425.5 74.9,425.4 75.4,425.2 75.9,425.0 76.4,424.8 76.9,424.6 77.4,424.5 77.9,424.3 78.4,424.1 78.9,423.9 79.4,423.7 79.9,423.5 80.4,423.4 80.9,423.2 81.4,423.0 81.9,422.8 82.4,422.6 82.9,422.4 83.4,422.2 83.9,422.0 84.4,421.8 84.9,421.6 85.4,421.3 85.9,421.1 86.4,420.9 86.9,420.6 87.4,420.4 87.9,420.1 88.4,419.9 88.9,419.6 89.4,419.3 89.9,419.1 90.4,418.8 90.9,418.5 91.4,418.1 91.9,417.8 92.4,417.4 92.9,417.0 93.4,416.7 93.9,416.3 94.4,415.9 94.9,415.5 95.4,415.1 95.9,414.7 96.4,414.3 96.9,413.9 97.4,413.5 97.9,413.0 98.4,412.5 98.9,411.9 99.4,411.3 99.9,410.6 100.4,410.0 100.9,409.4 101.4,408.9 101.9,408.6 102.4,408.4 102.9,408.3 103.4,408.4 103.9,408.5 104.4,408.7 104.9,408.9 105.4,409.0 105.9,409.1 106.4,409.0 106.9,408.7 107.4,408.3 107.9,407.7 108.4,406.8 108.9,405.7 109.4,404.1 109.9,402.2 110.4,399.7 110.9,396.7 111.4,393.1 111.9,389.0 112.4,384.3 112.9,379.2 113.4,373.7 113.9,368.1 114.4,362.6 114.9,357.3 115.4,352.5 115.9,348.4 116.4,345.2 116.9,342.9 117.4,341.8 117.9,341.6 118.4,342.4 118.9,343.9 119.4,345.9 119.9,348.2 120.4,350.4 120.9,352.1 121.4,353.2 121.9,353.2 122.4,352.1 122.9,349.7 123.4,345.9 123.9,340.6 124.4,333.9 124.9,326.0 125.4,316.8 125.9,306.8 126.4,296.1 126.9,284.9 127.4,273.7 127.9,262.6 128.4,252.0 128.9,242.3 129.4,233.7 129.9,226.4 130.4,220.7 130.9,216.8 131.4,214.8 131.9,214.7 132.4,216.6 132.9,220.5 133.4,226.2 133.9,233.5 134.4,242.3 134.9,252.3 135.4,263.3 135.9,275.0 136.4,287.0 136.9,299.3 137.4,311.4 137.9,323.2 138.4,334.6 138.9,345.3 139.4,355.2 139.9,364.3 140.4,372.6 140.9,380.0 141.4,386.5 141.9,392.2 142.4,397.1 142.9,401.3 143.4,404.8 143.9,407.8 144.4,410.3 144.9,412.3 145.4,414.0 145.9,415.4 146.4,416.6 146.9,417.6 147.4,418.5 147.9,419.3 148.4,420.0 148.9,420.6 149.4,421.1 149.9,421.6 150.4,422.1 150.9,422.4 151.4,422.7 151.9,422.9 152.4,423.1 152.9,423.2 153.4,423.3 153.9,423.5 154.4,423.6 154.9,423.7 155.4,423.8 155.9,423.8 156.4,423.9 156.9,424.0 157.4,424.0 157.9,424.0 158.4,424.0 158.9,424.0 159.4,424.0 159.9,424.0 160.4,423.9 160.9,423.9 161.4,423.9 161.9,423.8 162.4,423.7 162.9,423.6 163.4,423.5 163.9,423.3 164.4,423.0 164.9,422.7 165.4,422.3 165.9,421.9 166.4,421.4 166.9,420.8 167.4,420.2 167.9,419.6 168.4,419.1 168.9,418.5 169.4,418.1 169.9,417.7 170.4,417.5 170.9,417.4 171.4,417.4 171.9,417.6 172.4,417.9 172.9,418.3 173.4,418.8 173.9,419.3 174.4,419.9 174.9,420.5 175.4,421.0 175.9,421.6 176.4,422.0 176.9,422.4 177.4,422.8 177.9,423.0 178.4,423.2 178.9,423.4 179.4,423.5 179.9,423.6 180.4,423.7 180.9,423.7 181.4,423.7 181.9,423.8 182.4,423.8 182.9,423.8 183.4,423.8 183.9,423.8 184.4,423.8 184.9,423.8 185.4,423.7 185.9,423.7 186.4,423.7 186.9,423.7 187.4,423.7 187.9,423.7 188.4,423.7 188.9,423.7 189.4,423.7 189.9,423.7 190.4,423.6 190.9,423.6 191.4,423.6 191.9,423.6 192.4,423.6 192.9,423.6 193.4,423.6 193.9,423.6 194.4,423.6 194.9,423.5 195.4,423.5 195.9,423.5 196.4,423.5 196.9,423.5 197.4,423.5 197.9,423.5 198.4,423.5 198.9,423.4 199.4,423.4 199.9,423.4 200.4,423.4 200.9,423.4 201.4,423.4 201.9,423.4 202.4,423.4 202.9,423.3 203.4,423.3 203.9,423.3 204.4,423.3 204.9,423.3 205.4,423.3 205.9,423.3 206.4,423.3 206.9,423.2 207.4,423.2 207.9,423.2 208.4,423.2 208.9,423.2 209.4,423.2 209.9,423.2 210.4,423.1 210.9,423.1 211.4,423.1 211.9,423.1 212.4,423.1 212.9,423.1 213.4,423.1 213.9,423.1 214.4,423.0 214.9,423.0 215.4,423.0 215.9,423.0 216.4,423.0 216.9,423.0 217.4,423.0 217.9,422.9 218.4,422.9 218.9,422.9 219.4,422.9 219.9,422.9 220.4,422.9 220.9,422.9 221.4,422.9 221.9,422.8 222.4,422.8 222.9,422.8 223.4,422.8 223.9,422.8 224.4,422.8 224.9,422.8 225.4,422.7 225.9,422.7 226.4,422.7 226.9,422.7 227.4,422.7 227.9,422.7 228.4,422.7 228.9,422.6 229.4,422.6 229.9,422.6 230.4,422.6 230.9,422.6 231.4,422.6 231.9,422.6 232.4,422.5 232.9,422.5 233.4,422.5 233.9,422.5 234.4,422.5 234.9,422.5 235.4,422.4 235.9,422.4 236.4,422.4 236.9,422.4 237.4,422.4 237.9,422.4 238.4,422.4 238.9,422.3 239.4,422.3 239.9,422.3 240.4,422.3 240.9,422.3 241.4,422.3 241.9,422.2 242.4,422.2 242.9,422.2 243.4,422.2 243.9,422.2 244.4,422.2 244.9,422.2 245.4,422.1 245.9,422.1 246.4,422.1 246.9,422.1 247.4,422.1 247.9,422.1 248.4,422.0 248.9,422.0 249.4,422.0 249.9,422.0 250.4,422.0 250.9,422.0 251.4,422.0 251.9,421.9 252.4,421.9 252.9,421.9 253.4,421.9 253.9,421.9 254.4,421.9 254.9,421.9 255.4,421.9 255.9,421.8 256.4,421.8 256.9,421.8 257.4,421.8 257.9,421.8 258.4,421.8 258.9,421.8 259.4,421.8 259.9,421.7 260.4,421.7 260.9,421.7 261.4,421.7 261.9,421.7 262.4,421.7 262.9,421.7 263.4,421.7 263.9,421.6 264.4,421.6 264.9,421.6 265.4,421.6 265.9,421.6 266.4,421.6 266.9,421.6 267.4,421.6 267.9,421.5 268.4,421.5 268.9,421.5 269.4,421.5 269.9,421.5 270.4,421.5 270.9,421.5 271.4,421.4 271.9,421.4 272.4,421.4 272.9,421.4 273.4,421.4 273.9,421.4 274.4,421.3 274.9,421.3 275.4,421.3 275.9,421.3 276.4,421.3 276.9,421.2 277.4,421.2 277.9,421.2 278.4,421.2 278.9,421.2 279.4,421.1 279.9,421.1 280.4,421.1 280.9,421.1 281.4,421.0 281.9,421.0 282.4,421.0 282.9,420.9 283.4,420.9 283.9,420.8 284.4,420.8 284.9,420.7 285.4,420.7 285.9,420.6 286.4,420.5 286.9,420.4 287.4,420.4 287.9,420.3 288.4,420.2 288.9,420.1 289.4,420.0 289.9,419.9 290.4,419.8 290.9,419.8 291.4,419.7 291.9,419.6 292.4,419.5 292.9,419.4 293.4,419.3 293.9,419.2 294.4,419.2 294.9,419.1 295.4,419.0 295.9,418.9 296.4,418.9 296.9,418.8 297.4,418.7 297.9,418.7 298.4,418.6 298.9,418.5 299.4,418.5 299.9,418.4 300.4,418.3 300.9,418.3 301.4,418.2 301.9,418.1 302.4,418.0 302.9,417.9 303.4,417.8 303.9,417.8 304.4,417.7 304.9,417.7 305.4,417.7 305.9,417.7 306.4,417.7 306.9,417.8 307.4,417.9 307.9,417.9 308.4,418.0 308.9,418.1 309.4,418.1 309.9,418.2 310.4,418.2 310.9,418.3 311.4,418.3 311.9,418.3 312.4,418.3 312.9,418.3 313.4,418.3 313.9,418.3 314.4,418.3 314.9,418.3 315.4,418.3 315.9,418.3 316.4,418.3 316.9,418.3 317.4,418.3 317.9,418.3 318.4,418.3 318.9,418.3 319.4,418.3 319.9,418.3 320.4,418.3 320.9,418.3 321.4,418.3 321.9,418.3 322.4,418.3 322.9,418.3 323.4,418.3 323.9,418.3 324.4,418.3 324.9,418.3 325.4,418.3 325.9,418.4 326.4,418.4 326.9,418.4 327.4,418.4 327.9,418.4 328.4,418.4 328.9,418.5 329.4,418.5 329.9,418.5 330.4,418.5 330.9,418.5 331.4,418.6 331.9,418.6 332.4,418.6 332.9,418.6 333.4,418.6 333.9,418.7 334.4,418.7 334.9,418.7 335.4,418.7 335.9,418.8 336.4,418.8 336.9,418.8 337.4,418.8 337.9,418.8 338.4,418.9 338.9,418.9 339.4,418.9 339.9,418.9 340.4,418.9 340.9,418.9 341.4,419.0 341.9,419.0 342.4,419.0 342.9,419.0 343.4,419.0 343.9,419.0 344.4,419.0 344.9,419.0 345.4,419.0 345.9,419.0 346.4,419.0 346.9,419.0 347.4,418.9 347.9,418.9 348.4,418.9 348.9,418.9 349.4,418.8 349.9,418.8 350.4,418.8 350.9,418.7 351.4,418.7 351.9,418.6 352.4,418.6 352.9,418.5 353.4,418.4 353.9,418.4 354.4,418.3 354.9,418.1 355.4,418.0 355.9,417.8 356.4,417.6 356.9,417.4 357.4,417.2 357.9,417.0 358.4,416.8 358.9,416.5 359.4,416.3 359.9,416.0 360.4,415.8 360.9,415.5 361.4,415.1 361.9,414.7 362.4,414.3 362.9,413.9 363.4,413.5 363.9,413.0 364.4,412.6 364.9,412.2 365.4,411.9 365.9,411.6 366.4,411.3 366.9,411.0 367.4,410.7 367.9,410.3 368.4,410.0 368.9,409.7 369.4,409.5 369.9,409.2 370.4,408.9 370.9,408.7 371.4,408.6 371.9,408.4 372.4,408.3 372.9,408.3 373.4,408.3 373.9,408.4 374.4,408.5 374.9,408.7 375.4,408.8 375.9,409.0 376.4,409.3 376.9,409.5 377.4,409.7 377.9,410.0 378.4,410.2 378.9,410.4 379.4,410.7 379.9,411.0 380.4,411.3 380.9,411.6 381.4,411.9 381.9,412.2 382.4,412.5 382.9,412.9 383.4,413.2 383.9,413.5 384.4,413.9 384.9,414.2 385.4,414.5 385.9,414.7 386.4,415.0 386.9,415.2 387.4,415.5 387.9,415.7 388.4,415.9 388.9,416.1 389.4,416.3 389.9,416.5 390.4,416.6 390.9,416.8 391.4,416.9 391.9,417.0 392.4,417.1 392.9,417.2 393.4,417.3 393.9,417.4 394.4,417.5 394.9,417.6 395.4,417.7 395.9,417.7 396.4,417.8 396.9,417.9 397.4,418.0 397.9,418.0 398.4,418.1 398.9,418.1 399.4,418.2 399.9,418.2 400.4,418.2 400.9,418.2 401.4,418.2 401.9,418.3 402.4,418.3 402.9,418.3 403.4,418.3 403.9,418.3 404.4,418.3 404.9,418.3 405.4,418.3 405.9,418.3 406.4,418.4 406.9,418.4 407.4,418.4 407.9,418.4 408.4,418.4 408.9,418.4 409.4,418.4 409.9,418.4 410.4,418.4 410.9,418.4 411.4,418.4 411.9,418.4 412.4,418.4 412.9,418.4 413.4,418.4 413.9,418.4 414.4,418.4 414.9,418.4 415.4,418.5 415.9,418.5 416.4,418.5 416.9,418.5 417.4,418.5 417.9,418.5 418.4,418.5 418.9,418.5 419.4,418.5 419.9,418.5 420.4,418.5 420.9,418.5 421.4,418.5 421.9,418.5 422.4,418.5 422.9,418.5 423.4,418.5 423.9,418.5 424.4,418.5" fill="none" stroke="#a6e9a6" stroke-width="1.2" stroke-linejoin="round" clip-path="url(#cb)"/><polyline points="13.4,452.9 13.9,450.3 14.4,448.3 14.9,446.8 15.4,445.9 15.9,445.4 16.4,445.4 16.9,446.5 17.4,448.3 17.9,450.6 18.4,452.9 18.9,454.7 19.4,456.1 19.9,457.5 20.4,459.0 20.9,460.3 21.4,461.6 21.9,462.7 22.4,463.6 22.9,464.2 23.4,464.5 23.9,464.5 24.4,464.4 24.9,464.3 25.4,464.2 25.9,464.0 26.4,463.8 26.9,463.6 27.4,463.4 27.9,463.1 28.4,462.9 28.9,462.7 29.4,462.6 29.9,462.4 30.4,462.3 30.9,462.2 31.4,462.1 31.9,461.9 32.4,461.8 32.9,461.7 33.4,461.5 33.9,461.4 34.4,461.3 34.9,461.1 35.4,460.9 35.9,460.7 36.4,460.5 36.9,460.2 37.4,459.9 37.9,459.5 38.4,459.0 38.9,458.4 39.4,457.6 39.9,456.7 40.4,455.6 40.9,454.3 41.4,452.9 41.9,451.3 42.4,449.6 42.9,447.7 43.4,445.7 43.9,443.7 44.4,441.6 44.9,439.3 45.4,436.8 45.9,433.9 46.4,430.0 46.9,424.8 47.4,417.6 47.9,407.5 48.4,393.7 48.9,375.4 49.4,352.0 49.9,323.0 50.4,288.5 50.9,249.0 51.4,205.4 51.9,159.0 52.4,111.3 52.9,64.1 53.4,18.9 53.9,-22.7 54.4,-59.5 54.9,-90.8 55.4,-116.3 55.9,-135.9 56.4,-150.0 56.9,-159.3 57.4,-164.7 57.9,-167.1 58.4,-167.6 58.9,-167.0 59.4,-166.5 59.9,-164.6 60.4,-160.0 60.9,-151.8 61.4,-138.9 61.9,-120.6 62.4,-96.4 62.9,-66.2 63.4,-30.0 63.9,11.5 64.4,57.2 64.9,105.7 65.4,155.5 65.9,204.8 66.4,251.8 66.9,295.1 67.4,333.6 67.9,366.5 68.4,393.5 68.9,414.9 69.4,431.1 69.9,442.9 70.4,451.0 70.9,456.5 71.4,459.9 71.9,462.0 72.4,463.3 72.9,464.0 73.4,464.4 73.9,464.6 74.4,464.7 74.9,464.8 75.4,464.8 75.9,464.9 76.4,464.9 76.9,464.9 77.4,465.0 77.9,465.0 78.4,465.1 78.9,465.3 79.4,465.4 79.9,465.6 80.4,465.9 80.9,466.1 81.4,466.3 81.9,466.5 82.4,466.6 82.9,466.8 83.4,466.9 83.9,467.1 84.4,467.2 84.9,467.4 85.4,467.5 85.9,467.7 86.4,467.8 86.9,467.9 87.4,468.1 87.9,468.2 88.4,468.3 88.9,468.4 89.4,468.5 89.9,468.6 90.4,468.7 90.9,468.7 91.4,468.6 91.9,468.4 92.4,468.1 92.9,467.6 93.4,466.8 93.9,465.8 94.4,464.3 94.9,462.4 95.4,460.0 95.9,457.1 96.4,453.7 96.9,449.8 97.4,445.6 97.9,441.1 98.4,436.6 98.9,432.1 99.4,427.8 99.9,423.8 100.4,420.3 100.9,417.4 101.4,415.0 101.9,413.2 102.4,412.0 102.9,411.3 103.4,411.0 103.9,410.9 104.4,410.9 104.9,411.1 105.4,411.6 105.9,412.6 106.4,414.1 106.9,416.1 107.4,418.8 107.9,422.0 108.4,425.7 108.9,429.8 109.4,434.1 109.9,438.6 110.4,443.0 110.9,447.3 111.4,451.2 111.9,454.8 112.4,457.8 112.9,460.4 113.4,462.5 113.9,464.1 114.4,465.3 114.9,466.2 115.4,466.9 115.9,467.3 116.4,467.6 116.9,467.8 117.4,467.9 117.9,467.9 118.4,468.0 118.9,468.0 119.4,468.0 119.9,468.0 120.4,468.0 120.9,468.0 121.4,468.0 121.9,468.0 122.4,467.9 122.9,467.9 123.4,467.9 123.9,467.9 124.4,467.9 124.9,467.8 125.4,467.8 125.9,467.8 126.4,467.7 126.9,467.7 127.4,467.6 127.9,467.6 128.4,467.6 128.9,467.5 129.4,467.5 129.9,467.4 130.4,467.4 130.9,467.3 131.4,467.3 131.9,467.2 132.4,467.2 132.9,467.1 133.4,467.1 133.9,467.0 134.4,467.0 134.9,466.9 135.4,466.9 135.9,466.8 136.4,466.7 136.9,466.7 137.4,466.6 137.9,466.6 138.4,466.5 138.9,466.5 139.4,466.4 139.9,466.4 140.4,466.3 140.9,466.3 141.4,466.2 141.9,466.1 142.4,466.1 142.9,466.0 143.4,466.0 143.9,466.0 144.4,465.9 144.9,465.9 145.4,465.8 145.9,465.8 146.4,465.7 146.9,465.7 147.4,465.7 147.9,465.6 148.4,465.6 148.9,465.6 149.4,465.5 149.9,465.5 150.4,465.5 150.9,465.5 151.4,465.4 151.9,465.4 152.4,465.4 152.9,465.4 153.4,465.3 153.9,465.3 154.4,465.3 154.9,465.3 155.4,465.2 155.9,465.2 156.4,465.2 156.9,465.2 157.4,465.2 157.9,465.1 158.4,465.1 158.9,465.1 159.4,465.1 159.9,465.0 160.4,465.0 160.9,465.0 161.4,465.0 161.9,465.0 162.4,464.9 162.9,464.9 163.4,464.9 163.9,464.9 164.4,464.9 164.9,464.8 165.4,464.8 165.9,464.8 166.4,464.8 166.9,464.8 167.4,464.7 167.9,464.7 168.4,464.7 168.9,464.7 169.4,464.7 169.9,464.6 170.4,464.6 170.9,464.6 171.4,464.6 171.9,464.6 172.4,464.5 172.9,464.5 173.4,464.5 173.9,464.5 174.4,464.5 174.9,464.5 175.4,464.4 175.9,464.4 176.4,464.4 176.9,464.4 177.4,464.4 177.9,464.4 178.4,464.3 178.9,464.3 179.4,464.3 179.9,464.3 180.4,464.3 180.9,464.3 181.4,464.2 181.9,464.2 182.4,464.2 182.9,464.2 183.4,464.2 183.9,464.2 184.4,464.1 184.9,464.1 185.4,464.1 185.9,464.1 186.4,464.1 186.9,464.1 187.4,464.1 187.9,464.0 188.4,464.0 188.9,464.0 189.4,464.0 189.9,464.0 190.4,464.0 190.9,464.0 191.4,463.9 191.9,463.9 192.4,463.9 192.9,463.9 193.4,463.9 193.9,463.9 194.4,463.9 194.9,463.8 195.4,463.8 195.9,463.8 196.4,463.8 196.9,463.8 197.4,463.8 197.9,463.8 198.4,463.7 198.9,463.7 199.4,463.7 199.9,463.7 200.4,463.7 200.9,463.7 201.4,463.7 201.9,463.7 202.4,463.6 202.9,463.6 203.4,463.6 203.9,463.6 204.4,463.6 204.9,463.6 205.4,463.6 205.9,463.6 206.4,463.5 206.9,463.5 207.4,463.5 207.9,463.5 208.4,463.5 208.9,463.5 209.4,463.5 209.9,463.5 210.4,463.4 210.9,463.4 211.4,463.4 211.9,463.4 212.4,463.4 212.9,463.4 213.4,463.4 213.9,463.4 214.4,463.3 214.9,463.3 215.4,463.3 215.9,463.3 216.4,463.3 216.9,463.3 217.4,463.3 217.9,463.3 218.4,463.2 218.9,463.2 219.4,463.2 219.9,463.2 220.4,463.2 220.9,463.2 221.4,463.2 221.9,463.1 222.4,463.1 222.9,463.1 223.4,463.1 223.9,463.1 224.4,463.1 224.9,463.1 225.4,463.1 225.9,463.0 226.4,463.0 226.9,463.0 227.4,463.0 227.9,463.0 228.4,463.0 228.9,463.0 229.4,463.0 229.9,462.9 230.4,462.9 230.9,462.9 231.4,462.9 231.9,462.9 232.4,462.9 232.9,462.9 233.4,462.8 233.9,462.8 234.4,462.8 234.9,462.8 235.4,462.8 235.9,462.8 236.4,462.8 236.9,462.7 237.4,462.7 237.9,462.7 238.4,462.7 238.9,462.7 239.4,462.7 239.9,462.7 240.4,462.7 240.9,462.6 241.4,462.6 241.9,462.6 242.4,462.6 242.9,462.6 243.4,462.6 243.9,462.6 244.4,462.6 244.9,462.5 245.4,462.5 245.9,462.5 246.4,462.5 246.9,462.5 247.4,462.5 247.9,462.5 248.4,462.5 248.9,462.4 249.4,462.4 249.9,462.4 250.4,462.4 250.9,462.4 251.4,462.4 251.9,462.4 252.4,462.4 252.9,462.4 253.4,462.3 253.9,462.3 254.4,462.3 254.9,462.3 255.4,462.3 255.9,462.3 256.4,462.3 256.9,462.3 257.4,462.3 257.9,462.3 258.4,462.2 258.9,462.2 259.4,462.2 259.9,462.2 260.4,462.2 260.9,462.2 261.4,462.2 261.9,462.2 262.4,462.2 262.9,462.2 263.4,462.2 263.9,462.2 264.4,462.1 264.9,462.1 265.4,462.1 265.9,462.1 266.4,462.1 266.9,462.1 267.4,462.1 267.9,462.1 268.4,462.1 268.9,462.1 269.4,462.1 269.9,462.1 270.4,462.1 270.9,462.1 271.4,462.1 271.9,462.0 272.4,462.0 272.9,462.0 273.4,462.0 273.9,462.0 274.4,462.0 274.9,462.0 275.4,462.0 275.9,462.0 276.4,462.0 276.9,462.0 277.4,462.0 277.9,462.0 278.4,462.0 278.9,462.0 279.4,462.0 279.9,462.0 280.4,462.0 280.9,462.0 281.4,462.0 281.9,462.0 282.4,462.0 282.9,462.0 283.4,462.0 283.9,462.0 284.4,462.0 284.9,462.0 285.4,462.0 285.9,462.0 286.4,462.0 286.9,462.0 287.4,462.0 287.9,462.0 288.4,462.0 288.9,462.0 289.4,462.0 289.9,462.0 290.4,462.0 290.9,462.1 291.4,462.1 291.9,462.1 292.4,462.1 292.9,462.1 293.4,462.1 293.9,462.1 294.4,462.1 294.9,462.1 295.4,462.0 295.9,462.0 296.4,462.0 296.9,461.9 297.4,461.9 297.9,461.8 298.4,461.7 298.9,461.5 299.4,461.3 299.9,461.2 300.4,460.9 300.9,460.7 301.4,460.4 301.9,460.2 302.4,460.0 302.9,459.7 303.4,459.5 303.9,459.4 304.4,459.3 304.9,459.3 305.4,459.3 305.9,459.4 306.4,459.5 306.9,459.7 307.4,460.0 307.9,460.2 308.4,460.5 308.9,460.7 309.4,461.0 309.9,461.2 310.4,461.5 310.9,461.7 311.4,461.8 311.9,462.0 312.4,462.1 312.9,462.2 313.4,462.3 313.9,462.3 314.4,462.4 314.9,462.4 315.4,462.4 315.9,462.5 316.4,462.5 316.9,462.5 317.4,462.5 317.9,462.5 318.4,462.5 318.9,462.5 319.4,462.5 319.9,462.5 320.4,462.5 320.9,462.5 321.4,462.5 321.9,462.6 322.4,462.6 322.9,462.6 323.4,462.6 323.9,462.6 324.4,462.6 324.9,462.6 325.4,462.6 325.9,462.6 326.4,462.6 326.9,462.6 327.4,462.6 327.9,462.6 328.4,462.6 328.9,462.6 329.4,462.6 329.9,462.6 330.4,462.6 330.9,462.6 331.4,462.6 331.9,462.6 332.4,462.6 332.9,462.6 333.4,462.6 333.9,462.6 334.4,462.6 334.9,462.6 335.4,462.6 335.9,462.6 336.4,462.6 336.9,462.6 337.4,462.6 337.9,462.5 338.4,462.5 338.9,462.5 339.4,462.5 339.9,462.5 340.4,462.5 340.9,462.5 341.4,462.5 341.9,462.5 342.4,462.5 342.9,462.4 343.4,462.4 343.9,462.4 344.4,462.4 344.9,462.4 345.4,462.4 345.9,462.3 346.4,462.3 346.9,462.3 347.4,462.3 347.9,462.3 348.4,462.2 348.9,462.2 349.4,462.2 349.9,462.2 350.4,462.2 350.9,462.1 351.4,462.1 351.9,462.1 352.4,462.0 352.9,462.0 353.4,462.0 353.9,462.0 354.4,461.9 354.9,461.9 355.4,461.9 355.9,461.8 356.4,461.8 356.9,461.8 357.4,461.7 357.9,461.7 358.4,461.6 358.9,461.6 359.4,461.6 359.9,461.5 360.4,461.4 360.9,461.3 361.4,461.1 361.9,460.9 362.4,460.6 362.9,460.3 363.4,459.9 363.9,459.6 364.4,459.2 364.9,458.6 365.4,458.0 365.9,457.3 366.4,456.6 366.9,455.9 367.4,455.2 367.9,454.6 368.4,454.1 368.9,453.5 369.4,452.9 369.9,452.4 370.4,452.0 370.9,451.8 371.4,451.8 371.9,451.7 372.4,451.7 372.9,451.6 373.4,451.6 373.9,451.6 374.4,451.6 374.9,451.8 375.4,452.0 375.9,452.2 376.4,452.5 376.9,452.9 377.4,453.2 377.9,453.4 378.4,453.7 378.9,454.0 379.4,454.2 379.9,454.5 380.4,454.7 380.9,455.0 381.4,455.3 381.9,455.5 382.4,455.8 382.9,456.0 383.4,456.3 383.9,456.6 384.4,456.8 384.9,457.1 385.4,457.3 385.9,457.6 386.4,457.8 386.9,458.0 387.4,458.3 387.9,458.5 388.4,458.8 388.9,459.0 389.4,459.2 389.9,459.5 390.4,459.7 390.9,459.9 391.4,460.2 391.9,460.4 392.4,460.7 392.9,460.9 393.4,461.2 393.9,461.4 394.4,461.6 394.9,461.8 395.4,461.9 395.9,462.0 396.4,462.1 396.9,462.1 397.4,462.2 397.9,462.2 398.4,462.3 398.9,462.3 399.4,462.4 399.9,462.4 400.4,462.5 400.9,462.5 401.4,462.5 401.9,462.6 402.4,462.6 402.9,462.6 403.4,462.7 403.9,462.7 404.4,462.7 404.9,462.8 405.4,462.8 405.9,462.8 406.4,462.8 406.9,462.9 407.4,462.9 407.9,462.9 408.4,462.9 408.9,462.9 409.4,463.0 409.9,463.0 410.4,463.0 410.9,463.0 411.4,463.1 411.9,463.1 412.4,463.1 412.9,463.1 413.4,463.2 413.9,463.2 414.4,463.2 414.9,463.2 415.4,463.2 415.9,463.3 416.4,463.3 416.9,463.3 417.4,463.3 417.9,463.3 418.4,463.3 418.9,463.4 419.4,463.4 419.9,463.4 420.4,463.4 420.9,463.4 421.4,463.4 421.9,463.4 422.4,463.5 422.9,463.5 423.4,463.5 423.9,463.5 424.4,463.5" fill="none" stroke="#9cc7a0" stroke-width="1.2" stroke-linejoin="round" clip-path="url(#cb)"/><polyline points="13.4,475.8 13.9,473.8 14.4,472.2 14.9,471.2 15.4,470.4 15.9,470.1 16.4,470.0 16.9,470.8 17.4,472.3 17.9,474.2 18.4,476.1 18.9,477.7 19.4,479.0 19.9,480.2 20.4,481.5 20.9,482.8 21.4,483.9 21.9,484.9 22.4,485.7 22.9,486.2 23.4,486.5 23.9,486.5 24.4,486.4 24.9,486.2 25.4,486.1 25.9,485.8 26.4,485.6 26.9,485.3 27.4,485.0 27.9,484.8 28.4,484.5 28.9,484.3 29.4,484.1 29.9,483.9 30.4,483.8 30.9,483.7 31.4,483.6 31.9,483.4 32.4,483.3 32.9,483.1 33.4,483.0 33.9,482.8 34.4,482.6 34.9,482.4 35.4,482.1 35.9,481.8 36.4,481.5 36.9,481.2 37.4,480.8 37.9,480.4 38.4,479.9 38.9,479.4 39.4,478.9 39.9,478.3 40.4,477.7 40.9,477.1 41.4,476.3 41.9,475.6 42.4,474.7 42.9,473.8 43.4,472.7 43.9,471.5 44.4,470.0 44.9,468.0 45.4,465.4 45.9,461.8 46.4,456.6 46.9,449.3 47.4,439.3 47.9,425.8 48.4,408.2 48.9,385.9 49.4,358.7 49.9,326.6 50.4,289.9 50.9,249.4 51.4,206.2 51.9,161.4 52.4,116.6 52.9,73.1 53.4,32.4 53.9,-4.5 54.4,-36.6 54.9,-63.6 55.4,-85.2 55.9,-101.5 56.4,-113.1 56.9,-120.4 57.4,-124.3 57.9,-125.7 58.4,-125.5 58.9,-118.0 59.4,-117.6 59.9,-115.9 60.4,-112.0 60.9,-105.1 61.4,-94.2 61.9,-78.7 62.4,-58.1 62.9,-32.2 63.4,-1.1 63.9,35.0 64.4,75.2 64.9,118.4 65.4,163.5 65.9,209.1 66.4,253.5 66.9,295.5 67.4,333.9 67.9,367.8 68.4,396.8 68.9,420.7 69.4,439.6 69.9,454.1 70.4,464.7 70.9,472.2 71.4,477.2 71.9,480.4 72.4,482.4 72.9,483.5 73.4,484.0 73.9,484.0 74.4,483.9 74.9,483.7 75.4,483.5 75.9,483.4 76.4,483.2 76.9,483.1 77.4,483.0 77.9,482.9 78.4,482.9 78.9,483.1 79.4,483.3 79.9,483.6 80.4,483.9 80.9,484.3 81.4,484.6 81.9,484.9 82.4,485.2 82.9,485.5 83.4,485.9 83.9,486.2 84.4,486.6 84.9,486.9 85.4,487.2 85.9,487.5 86.4,487.8 86.9,488.0 87.4,488.1 87.9,488.2 88.4,488.2 88.9,488.3 89.4,488.3 89.9,488.2 90.4,488.1 90.9,487.9 91.4,487.5 91.9,487.0 92.4,486.2 92.9,485.1 93.4,483.7 93.9,481.9 94.4,479.6 94.9,476.8 95.4,473.5 95.9,469.8 96.4,465.7 96.9,461.2 97.4,456.5 97.9,451.7 98.4,447.0 98.9,442.4 99.4,438.2 99.9,434.4 100.4,431.1 100.9,428.3 101.4,426.2 101.9,424.7 102.4,423.7 102.9,423.1 103.4,422.9 103.9,422.9 104.4,423.0 104.9,423.5 105.4,424.4 105.9,425.8 106.4,427.7 106.9,430.3 107.4,433.4 107.9,437.0 108.4,441.1 108.9,445.6 109.4,450.2 109.9,454.9 110.4,459.6 110.9,464.0 111.4,468.2 111.9,472.0 112.4,475.3 112.9,478.2 113.4,480.5 113.9,482.5 114.4,484.0 114.9,485.2 115.4,486.2 115.9,486.9 116.4,487.4 116.9,487.8 117.4,488.0 117.9,488.2 118.4,488.4 118.9,488.5 119.4,488.6 119.9,488.6 120.4,488.6 120.9,488.6 121.4,488.6 121.9,488.6 122.4,488.6 122.9,488.5 123.4,488.5 123.9,488.5 124.4,488.5 124.9,488.4 125.4,488.4 125.9,488.4 126.4,488.3 126.9,488.3 127.4,488.2 127.9,488.2 128.4,488.2 128.9,488.1 129.4,488.1 129.9,488.0 130.4,487.9 130.9,487.9 131.4,487.8 131.9,487.8 132.4,487.7 132.9,487.7 133.4,487.6 133.9,487.5 134.4,487.5 134.9,487.4 135.4,487.3 135.9,487.3 136.4,487.2 136.9,487.2 137.4,487.1 137.9,487.0 138.4,487.0 138.9,486.9 139.4,486.8 139.9,486.8 140.4,486.7 140.9,486.6 141.4,486.6 141.9,486.5 142.4,486.5 142.9,486.4 143.4,486.4 143.9,486.3 144.4,486.2 144.9,486.2 145.4,486.1 145.9,486.1 146.4,486.1 146.9,486.0 147.4,486.0 147.9,485.9 148.4,485.9 148.9,485.9 149.4,485.8 149.9,485.8 150.4,485.8 150.9,485.8 151.4,485.7 151.9,485.7 152.4,485.7 152.9,485.7 153.4,485.6 153.9,485.6 154.4,485.6 154.9,485.6 155.4,485.5 155.9,485.5 156.4,485.5 156.9,485.5 157.4,485.4 157.9,485.4 158.4,485.4 158.9,485.4 159.4,485.3 159.9,485.3 160.4,485.3 160.9,485.3 161.4,485.3 161.9,485.2 162.4,485.2 162.9,485.2 163.4,485.2 163.9,485.1 164.4,485.1 164.9,485.1 165.4,485.1 165.9,485.1 166.4,485.0 166.9,485.0 167.4,485.0 167.9,485.0 168.4,485.0 168.9,484.9 169.4,484.9 169.9,484.9 170.4,484.9 170.9,484.9 171.4,484.9 171.9,484.8 172.4,484.8 172.9,484.8 173.4,484.8 173.9,484.8 174.4,484.7 174.9,484.7 175.4,484.7 175.9,484.7 176.4,484.7 176.9,484.7 177.4,484.6 177.9,484.6 178.4,484.6 178.9,484.6 179.4,484.6 179.9,484.6 180.4,484.5 180.9,484.5 181.4,484.5 181.9,484.5 182.4,484.5 182.9,484.5 183.4,484.4 183.9,484.4 184.4,484.4 184.9,484.4 185.4,484.4 185.9,484.4 186.4,484.3 186.9,484.3 187.4,484.3 187.9,484.3 188.4,484.3 188.9,484.3 189.4,484.3 189.9,484.2 190.4,484.2 190.9,484.2 191.4,484.2 191.9,484.2 192.4,484.2 192.9,484.2 193.4,484.1 193.9,484.1 194.4,484.1 194.9,484.1 195.4,484.1 195.9,484.1 196.4,484.1 196.9,484.1 197.4,484.0 197.9,484.0 198.4,484.0 198.9,484.0 199.4,484.0 199.9,484.0 200.4,484.0 200.9,484.0 201.4,483.9 201.9,483.9 202.4,483.9 202.9,483.9 203.4,483.9 203.9,483.9 204.4,483.9 204.9,483.9 205.4,483.8 205.9,483.8 206.4,483.8 206.9,483.8 207.4,483.8 207.9,483.8 208.4,483.8 208.9,483.8 209.4,483.8 209.9,483.7 210.4,483.7 210.9,483.7 211.4,483.7 211.9,483.7 212.4,483.7 212.9,483.7 213.4,483.7 213.9,483.6 214.4,483.6 214.9,483.6 215.4,483.6 215.9,483.6 216.4,483.6 216.9,483.6 217.4,483.6 217.9,483.6 218.4,483.5 218.9,483.5 219.4,483.5 219.9,483.5 220.4,483.5 220.9,483.5 221.4,483.5 221.9,483.5 222.4,483.4 222.9,483.4 223.4,483.4 223.9,483.4 224.4,483.4 224.9,483.4 225.4,483.4 225.9,483.4 226.4,483.4 226.9,483.3 227.4,483.3 227.9,483.3 228.4,483.3 228.9,483.3 229.4,483.3 229.9,483.3 230.4,483.3 230.9,483.3 231.4,483.2 231.9,483.2 232.4,483.2 232.9,483.2 233.4,483.2 233.9,483.2 234.4,483.2 234.9,483.2 235.4,483.2 235.9,483.1 236.4,483.1 236.9,483.1 237.4,483.1 237.9,483.1 238.4,483.1 238.9,483.1 239.4,483.1 239.9,483.1 240.4,483.1 240.9,483.1 241.4,483.1 241.9,483.1 242.4,483.0 242.9,483.0 243.4,483.0 243.9,483.0 244.4,483.0 244.9,483.0 245.4,483.0 245.9,483.0 246.4,483.0 246.9,483.0 247.4,483.0 247.9,483.0 248.4,483.0 248.9,483.0 249.4,483.0 249.9,483.0 250.4,483.0 250.9,483.0 251.4,483.0 251.9,483.0 252.4,483.0 252.9,483.0 253.4,483.0 253.9,483.0 254.4,482.9 254.9,482.9 255.4,482.9 255.9,482.8 256.4,482.8 256.9,482.7 257.4,482.7 257.9,482.6 258.4,482.5 258.9,482.4 259.4,482.3 259.9,482.2 260.4,482.1 260.9,482.0 261.4,481.9 261.9,481.8 262.4,481.7 262.9,481.7 263.4,481.7 263.9,481.7 264.4,481.7 264.9,481.7 265.4,481.8 265.9,481.9 266.4,482.0 266.9,482.1 267.4,482.2 267.9,482.3 268.4,482.4 268.9,482.5 269.4,482.7 269.9,482.8 270.4,482.9 270.9,483.0 271.4,483.0 271.9,483.1 272.4,483.1 272.9,483.2 273.4,483.2 273.9,483.3 274.4,483.3 274.9,483.3 275.4,483.3 275.9,483.3 276.4,483.4 276.9,483.4 277.4,483.4 277.9,483.4 278.4,483.4 278.9,483.4 279.4,483.4 279.9,483.4 280.4,483.4 280.9,483.4 281.4,483.4 281.9,483.4 282.4,483.4 282.9,483.4 283.4,483.4 283.9,483.4 284.4,483.4 284.9,483.4 285.4,483.4 285.9,483.4 286.4,483.4 286.9,483.4 287.4,483.4 287.9,483.4 288.4,483.4 288.9,483.4 289.4,483.4 289.9,483.4 290.4,483.4 290.9,483.4 291.4,483.4 291.9,483.4 292.4,483.4 292.9,483.4 293.4,483.4 293.9,483.3 294.4,483.3 294.9,483.3 295.4,483.2 295.9,483.2 296.4,483.1 296.9,483.0 297.4,482.9 297.9,482.7 298.4,482.5 298.9,482.2 299.4,481.9 299.9,481.6 300.4,481.2 300.9,480.8 301.4,480.4 301.9,479.9 302.4,479.5 302.9,479.1 303.4,478.8 303.9,478.5 304.4,478.4 304.9,478.3 305.4,478.3 305.9,478.4 306.4,478.7 306.9,479.0 307.4,479.3 307.9,479.7 308.4,480.1 308.9,480.6 309.4,481.0 309.9,481.4 310.4,481.7 310.9,482.0 311.4,482.3 311.9,482.5 312.4,482.7 312.9,482.8 313.4,482.9 313.9,483.0 314.4,483.1 314.9,483.1 315.4,483.1 315.9,483.1 316.4,483.2 316.9,483.2 317.4,483.2 317.9,483.2 318.4,483.2 318.9,483.1 319.4,483.1 319.9,483.1 320.4,483.1 320.9,483.1 321.4,483.1 321.9,483.1 322.4,483.1 322.9,483.1 323.4,483.1 323.9,483.1 324.4,483.1 324.9,483.1 325.4,483.1 325.9,483.1 326.4,483.1 326.9,483.0 327.4,483.0 327.9,483.0 328.4,483.0 328.9,483.0 329.4,483.0 329.9,483.0 330.4,483.0 330.9,483.0 331.4,483.0 331.9,483.0 332.4,483.0 332.9,483.0 333.4,483.0 333.9,482.9 334.4,482.9 334.9,482.9 335.4,482.9 335.9,482.9 336.4,482.9 336.9,482.9 337.4,482.9 337.9,482.9 338.4,482.9 338.9,482.9 339.4,482.9 339.9,482.8 340.4,482.8 340.9,482.8 341.4,482.8 341.9,482.8 342.4,482.8 342.9,482.8 343.4,482.8 343.9,482.8 344.4,482.7 344.9,482.7 345.4,482.7 345.9,482.7 346.4,482.7 346.9,482.7 347.4,482.6 347.9,482.6 348.4,482.6 348.9,482.6 349.4,482.6 349.9,482.5 350.4,482.5 350.9,482.5 351.4,482.5 351.9,482.4 352.4,482.4 352.9,482.4 353.4,482.3 353.9,482.3 354.4,482.3 354.9,482.2 355.4,482.2 355.9,482.2 356.4,482.1 356.9,482.1 357.4,482.1 357.9,482.0 358.4,481.9 358.9,481.8 359.4,481.6 359.9,481.4 360.4,481.1 360.9,480.8 361.4,480.4 361.9,480.1 362.4,479.6 362.9,479.1 363.4,478.4 363.9,477.6 364.4,476.8 364.9,475.9 365.4,475.0 365.9,474.2 366.4,473.3 366.9,472.3 367.4,471.2 367.9,470.1 368.4,469.0 368.9,468.0 369.4,467.2 369.9,466.6 370.4,466.2 370.9,465.8 371.4,465.4 371.9,465.1 372.4,464.9 372.9,464.8 373.4,464.8 373.9,464.9 374.4,465.0 374.9,465.1 375.4,465.3 375.9,465.5 376.4,465.7 376.9,466.0 377.4,466.2 377.9,466.6 378.4,467.0 378.9,467.5 379.4,468.0 379.9,468.5 380.4,469.0 380.9,469.4 381.4,469.8 381.9,470.2 382.4,470.5 382.9,470.9 383.4,471.2 383.9,471.6 384.4,472.0 384.9,472.4 385.4,472.8 385.9,473.3 386.4,473.8 386.9,474.3 387.4,474.9 387.9,475.4 388.4,475.9 388.9,476.4 389.4,476.9 389.9,477.4 390.4,477.9 390.9,478.4 391.4,478.9 391.9,479.4 392.4,479.9 392.9,480.4 393.4,480.9 393.9,481.3 394.4,481.6 394.9,481.9 395.4,482.2 395.9,482.3 396.4,482.3 396.9,482.4 397.4,482.4 397.9,482.5 398.4,482.5 398.9,482.6 399.4,482.6 399.9,482.6 400.4,482.7 400.9,482.7 401.4,482.7 401.9,482.7 402.4,482.8 402.9,482.8 403.4,482.8 403.9,482.8 404.4,482.8 404.9,482.9 405.4,482.9 405.9,482.9 406.4,482.9 406.9,482.9 407.4,482.9 407.9,482.9 408.4,483.0 408.9,483.0 409.4,483.0 409.9,483.0 410.4,483.0 410.9,483.0 411.4,483.0 411.9,483.1 412.4,483.1 412.9,483.1 413.4,483.1 413.9,483.1 414.4,483.1 414.9,483.1 415.4,483.1 415.9,483.2 416.4,483.2 416.9,483.2 417.4,483.2 417.9,483.2 418.4,483.2 418.9,483.2 419.4,483.2 419.9,483.2 420.4,483.3 420.9,483.3 421.4,483.3 421.9,483.3 422.4,483.3 422.9,483.3 423.4,483.3 423.9,483.3 424.4,483.3" fill="none" stroke="#f5cca4" stroke-width="1.2" stroke-linejoin="round" clip-path="url(#cb)"/><polyline points="13.4,432.0 13.9,429.5 14.4,427.6 14.9,426.2 15.4,425.4 15.9,425.0 16.4,425.3 16.9,426.4 17.4,428.1 17.9,429.9 18.4,431.7 18.9,433.3 19.4,435.2 19.9,437.2 20.4,438.9 20.9,440.3 21.4,441.3 21.9,442.2 22.4,443.0 22.9,443.5 23.4,443.8 23.9,443.8 24.4,443.7 24.9,443.6 25.4,443.5 25.9,443.3 26.4,443.2 26.9,443.0 27.4,442.7 27.9,442.5 28.4,442.2 28.9,441.9 29.4,441.7 29.9,441.5 30.4,441.4 30.9,441.3 31.4,441.1 31.9,441.0 32.4,440.8 32.9,440.7 33.4,440.6 33.9,440.5 34.4,440.4 34.9,440.3 35.4,440.2 35.9,440.1 36.4,439.9 36.9,439.8 37.4,439.7 37.9,439.5 38.4,439.3 38.9,439.1 39.4,438.7 39.9,438.3 40.4,437.8 40.9,437.2 41.4,436.4 41.9,435.5 42.4,434.6 42.9,433.5 43.4,432.4 43.9,431.2 44.4,430.1 44.9,428.9 45.4,427.7 45.9,426.3 46.4,424.4 46.9,421.5 47.4,417.1 47.9,410.2 48.4,399.8 48.9,384.8 49.4,364.1 49.9,336.8 50.4,302.7 50.9,261.7 51.4,214.6 51.9,162.7 52.4,107.8 52.9,52.0 53.4,-2.5 53.9,-53.7 54.4,-99.7 54.9,-139.4 55.4,-172.0 55.9,-197.4 56.4,-215.9 56.9,-228.2 57.4,-235.5 57.9,-238.9 58.4,-240.0 58.9,-240.0 59.4,-239.5 59.9,-237.1 60.4,-231.4 60.9,-221.1 61.4,-205.0 61.9,-182.3 62.4,-152.2 62.9,-114.9 63.4,-70.8 63.9,-20.9 64.4,33.3 64.9,89.7 65.4,146.2 65.9,200.7 66.4,251.2 66.9,296.0 67.4,334.2 67.9,365.4 68.4,389.8 68.9,408.1 69.4,421.0 69.9,429.8 70.4,435.5 70.9,438.9 71.4,440.9 71.9,441.9 72.4,442.4 72.9,442.5 73.4,442.6 73.9,442.5 74.4,442.5 74.9,442.4 75.4,442.4 75.9,442.3 76.4,442.3 76.9,442.3 77.4,442.2 77.9,442.2 78.4,442.2 78.9,442.2 79.4,442.4 79.9,442.7 80.4,443.0 80.9,443.3 81.4,443.7 81.9,444.0 82.4,444.2 82.9,444.5 83.4,444.8 83.9,445.1 84.4,445.3 84.9,445.6 85.4,445.8 85.9,446.0 86.4,446.1 86.9,446.2 87.4,446.2 87.9,446.1 88.4,446.1 88.9,446.0 89.4,445.8 89.9,445.7 90.4,445.5 90.9,445.3 91.4,445.0 91.9,444.5 92.4,443.9 92.9,443.1 93.4,442.2 93.9,441.2 94.4,440.0 94.9,438.4 95.4,436.4 95.9,433.9 96.4,430.9 96.9,427.5 97.4,423.5 97.9,419.0 98.4,414.1 98.9,408.9 99.4,403.5 99.9,398.2 100.4,393.1 100.9,388.4 101.4,384.4 101.9,381.1 102.4,378.5 102.9,376.8 103.4,375.8 103.9,375.4 104.4,375.3 104.9,375.4 105.4,376.1 105.9,377.4 106.4,379.6 106.9,382.6 107.4,386.5 107.9,391.2 108.4,396.5 108.9,402.1 109.4,408.0 109.9,413.9 110.4,419.5 110.9,424.7 111.4,429.2 111.9,433.0 112.4,436.2 112.9,438.7 113.4,440.7 113.9,442.2 114.4,443.3 114.9,444.1 115.4,444.7 115.9,445.1 116.4,445.4 116.9,445.6 117.4,445.7 117.9,445.8 118.4,445.9 118.9,445.9 119.4,446.0 119.9,446.0 120.4,446.0 120.9,446.0 121.4,446.0 121.9,446.0 122.4,446.0 122.9,445.9 123.4,445.9 123.9,445.9 124.4,445.9 124.9,445.8 125.4,445.8 125.9,445.8 126.4,445.7 126.9,445.7 127.4,445.6 127.9,445.6 128.4,445.5 128.9,445.5 129.4,445.4 129.9,445.4 130.4,445.3 130.9,445.3 131.4,445.2 131.9,445.2 132.4,445.1 132.9,445.0 133.4,445.0 133.9,444.9 134.4,444.9 134.9,444.8 135.4,444.7 135.9,444.7 136.4,444.6 136.9,444.5 137.4,444.5 137.9,444.4 138.4,444.3 138.9,444.3 139.4,444.2 139.9,444.1 140.4,444.1 140.9,444.0 141.4,443.9 141.9,443.9 142.4,443.8 142.9,443.8 143.4,443.7 143.9,443.6 144.4,443.6 144.9,443.5 145.4,443.5 145.9,443.4 146.4,443.4 146.9,443.3 147.4,443.3 147.9,443.2 148.4,443.2 148.9,443.2 149.4,443.1 149.9,443.1 150.4,443.1 150.9,443.0 151.4,443.0 151.9,443.0 152.4,443.0 152.9,442.9 153.4,442.9 153.9,442.9 154.4,442.8 154.9,442.8 155.4,442.8 155.9,442.8 156.4,442.7 156.9,442.7 157.4,442.7 157.9,442.6 158.4,442.6 158.9,442.6 159.4,442.6 159.9,442.5 160.4,442.5 160.9,442.5 161.4,442.5 161.9,442.4 162.4,442.4 162.9,442.4 163.4,442.4 163.9,442.3 164.4,442.3 164.9,442.3 165.4,442.3 165.9,442.3 166.4,442.2 166.9,442.2 167.4,442.2 167.9,442.2 168.4,442.2 168.9,442.1 169.4,442.1 169.9,442.1 170.4,442.1 170.9,442.1 171.4,442.1 171.9,442.1 172.4,442.0 172.9,442.0 173.4,442.0 173.9,442.0 174.4,442.0 174.9,441.9 175.4,441.9 175.9,441.9 176.4,441.9 176.9,441.8 177.4,441.8 177.9,441.7 178.4,441.7 178.9,441.6 179.4,441.5 179.9,441.4 180.4,441.3 180.9,441.2 181.4,441.1 181.9,440.9 182.4,440.8 182.9,440.7 183.4,440.5 183.9,440.3 184.4,440.2 184.9,440.0 185.4,439.9 185.9,439.8 186.4,439.6 186.9,439.5 187.4,439.5 187.9,439.4 188.4,439.4 188.9,439.3 189.4,439.4 189.9,439.4 190.4,439.5 190.9,439.5 191.4,439.6 191.9,439.8 192.4,439.9 192.9,440.0 193.4,440.2 193.9,440.3 194.4,440.5 194.9,440.6 195.4,440.8 195.9,440.9 196.4,441.0 196.9,441.1 197.4,441.2 197.9,441.3 198.4,441.4 198.9,441.5 199.4,441.5 199.9,441.6 200.4,441.6 200.9,441.7 201.4,441.7 201.9,441.7 202.4,441.7 202.9,441.8 203.4,441.8 203.9,441.8 204.4,441.8 204.9,441.8 205.4,441.8 205.9,441.8 206.4,441.8 206.9,441.8 207.4,441.8 207.9,441.8 208.4,441.8 208.9,441.8 209.4,441.8 209.9,441.8 210.4,441.8 210.9,441.8 211.4,441.8 211.9,441.8 212.4,441.8 212.9,441.8 213.4,441.8 213.9,441.8 214.4,441.8 214.9,441.8 215.4,441.8 215.9,441.8 216.4,441.8 216.9,441.8 217.4,441.8 217.9,441.8 218.4,441.8 218.9,441.8 219.4,441.8 219.9,441.8 220.4,441.8 220.9,441.8 221.4,441.8 221.9,441.8 222.4,441.8 222.9,441.8 223.4,441.8 223.9,441.8 224.4,441.8 224.9,441.8 225.4,441.8 225.9,441.8 226.4,441.8 226.9,441.7 227.4,441.7 227.9,441.7 228.4,441.7 228.9,441.7 229.4,441.7 229.9,441.7 230.4,441.7 230.9,441.7 231.4,441.7 231.9,441.7 232.4,441.6 232.9,441.6 233.4,441.6 233.9,441.6 234.4,441.6 234.9,441.6 235.4,441.6 235.9,441.6 236.4,441.5 236.9,441.5 237.4,441.5 237.9,441.5 238.4,441.5 238.9,441.5 239.4,441.5 239.9,441.5 240.4,441.4 240.9,441.4 241.4,441.4 241.9,441.4 242.4,441.4 242.9,441.4 243.4,441.4 243.9,441.4 244.4,441.3 244.9,441.3 245.4,441.3 245.9,441.3 246.4,441.3 246.9,441.3 247.4,441.3 247.9,441.2 248.4,441.2 248.9,441.2 249.4,441.2 249.9,441.2 250.4,441.2 250.9,441.2 251.4,441.2 251.9,441.2 252.4,441.1 252.9,441.1 253.4,441.1 253.9,441.1 254.4,441.1 254.9,441.1 255.4,441.1 255.9,441.0 256.4,441.0 256.9,441.0 257.4,441.0 257.9,441.0 258.4,441.0 258.9,440.9 259.4,440.9 259.9,440.9 260.4,440.9 260.9,440.9 261.4,440.9 261.9,440.8 262.4,440.8 262.9,440.8 263.4,440.8 263.9,440.8 264.4,440.8 264.9,440.7 265.4,440.7 265.9,440.7 266.4,440.7 266.9,440.7 267.4,440.7 267.9,440.7 268.4,440.6 268.9,440.6 269.4,440.6 269.9,440.6 270.4,440.6 270.9,440.6 271.4,440.6 271.9,440.5 272.4,440.5 272.9,440.5 273.4,440.5 273.9,440.5 274.4,440.5 274.9,440.5 275.4,440.5 275.9,440.5 276.4,440.4 276.9,440.4 277.4,440.4 277.9,440.4 278.4,440.4 278.9,440.4 279.4,440.4 279.9,440.4 280.4,440.4 280.9,440.4 281.4,440.4 281.9,440.4 282.4,440.4 282.9,440.4 283.4,440.4 283.9,440.4 284.4,440.4 284.9,440.4 285.4,440.4 285.9,440.4 286.4,440.4 286.9,440.4 287.4,440.4 287.9,440.4 288.4,440.5 288.9,440.5 289.4,440.5 289.9,440.5 290.4,440.5 290.9,440.5 291.4,440.5 291.9,440.5 292.4,440.5 292.9,440.6 293.4,440.6 293.9,440.6 294.4,440.6 294.9,440.6 295.4,440.6 295.9,440.6 296.4,440.7 296.9,440.7 297.4,440.7 297.9,440.7 298.4,440.7 298.9,440.7 299.4,440.8 299.9,440.8 300.4,440.8 300.9,440.8 301.4,440.8 301.9,440.8 302.4,440.9 302.9,440.9 303.4,440.9 303.9,440.9 304.4,440.9 304.9,441.0 305.4,441.0 305.9,441.0 306.4,441.0 306.9,441.0 307.4,441.1 307.9,441.1 308.4,441.1 308.9,441.1 309.4,441.1 309.9,441.1 310.4,441.2 310.9,441.2 311.4,441.2 311.9,441.2 312.4,441.2 312.9,441.3 313.4,441.3 313.9,441.3 314.4,441.3 314.9,441.3 315.4,441.3 315.9,441.4 316.4,441.4 316.9,441.4 317.4,441.4 317.9,441.4 318.4,441.4 318.9,441.4 319.4,441.5 319.9,441.5 320.4,441.5 320.9,441.5 321.4,441.5 321.9,441.5 322.4,441.5 322.9,441.5 323.4,441.5 323.9,441.5 324.4,441.6 324.9,441.6 325.4,441.6 325.9,441.6 326.4,441.6 326.9,441.6 327.4,441.6 327.9,441.6 328.4,441.6 328.9,441.6 329.4,441.6 329.9,441.6 330.4,441.6 330.9,441.6 331.4,441.6 331.9,441.6 332.4,441.6 332.9,441.6 333.4,441.6 333.9,441.6 334.4,441.6 334.9,441.6 335.4,441.6 335.9,441.6 336.4,441.6 336.9,441.6 337.4,441.6 337.9,441.6 338.4,441.6 338.9,441.6 339.4,441.6 339.9,441.6 340.4,441.6 340.9,441.6 341.4,441.6 341.9,441.6 342.4,441.6 342.9,441.6 343.4,441.6 343.9,441.6 344.4,441.6 344.9,441.6 345.4,441.6 345.9,441.6 346.4,441.6 346.9,441.6 347.4,441.6 347.9,441.6 348.4,441.6 348.9,441.6 349.4,441.6 349.9,441.5 350.4,441.5 350.9,441.5 351.4,441.5 351.9,441.5 352.4,441.5 352.9,441.5 353.4,441.5 353.9,441.5 354.4,441.5 354.9,441.5 355.4,441.5 355.9,441.5 356.4,441.5 356.9,441.4 357.4,441.3 357.9,441.1 358.4,440.9 358.9,440.7 359.4,440.4 359.9,440.2 360.4,439.9 360.9,439.6 361.4,439.2 361.9,438.7 362.4,438.2 362.9,437.5 363.4,436.8 363.9,436.0 364.4,435.2 364.9,434.5 365.4,433.8 365.9,433.1 366.4,432.5 366.9,431.9 367.4,431.2 367.9,430.5 368.4,429.9 368.9,429.4 369.4,428.9 369.9,428.6 370.4,428.3 370.9,428.0 371.4,427.8 371.9,427.6 372.4,427.5 372.9,427.4 373.4,427.4 373.9,427.5 374.4,427.6 374.9,427.7 375.4,427.9 375.9,428.1 376.4,428.3 376.9,428.5 377.4,428.7 377.9,429.1 378.4,429.5 378.9,430.0 379.4,430.4 379.9,430.9 380.4,431.2 380.9,431.5 381.4,431.6 381.9,431.7 382.4,431.8 382.9,431.9 383.4,431.9 383.9,432.0 384.4,432.1 384.9,432.2 385.4,432.3 385.9,432.5 386.4,432.8 386.9,433.1 387.4,433.5 387.9,433.9 388.4,434.3 388.9,434.7 389.4,435.1 389.9,435.4 390.4,435.8 390.9,436.2 391.4,436.6 391.9,437.0 392.4,437.4 392.9,437.8 393.4,438.2 393.9,438.6 394.4,438.9 394.9,439.2 395.4,439.5 395.9,439.7 396.4,439.8 396.9,440.0 397.4,440.1 397.9,440.3 398.4,440.4 398.9,440.5 399.4,440.7 399.9,440.8 400.4,440.9 400.9,441.0 401.4,441.1 401.9,441.2 402.4,441.2 402.9,441.3 403.4,441.4 403.9,441.4 404.4,441.5 404.9,441.5 405.4,441.5 405.9,441.5 406.4,441.6 406.9,441.6 407.4,441.6 407.9,441.6 408.4,441.7 408.9,441.7 409.4,441.7 409.9,441.7 410.4,441.7 410.9,441.8 411.4,441.8 411.9,441.8 412.4,441.8 412.9,441.8 413.4,441.8 413.9,441.8 414.4,441.9 414.9,441.9 415.4,441.9 415.9,441.9 416.4,441.9 416.9,441.9 417.4,441.9 417.9,441.9 418.4,441.9 418.9,442.0 419.4,442.0 419.9,442.0 420.4,442.0 420.9,442.0 421.4,442.0 421.9,442.0 422.4,442.0 422.9,442.0 423.4,442.0 423.9,442.0 424.4,442.0" fill="none" stroke="#a09eec" stroke-width="1.2" stroke-linejoin="round" clip-path="url(#cb)"/><polyline points="48.9,384.8 49.4,364.1 49.9,336.8 50.4,302.7 50.9,261.7 51.4,214.6 51.9,162.7 52.4,107.8 52.9,52.0 53.4,-2.5 53.9,-53.7 54.4,-99.7 54.9,-139.4 55.4,-172.0 55.9,-197.4 56.4,-215.9 56.9,-228.2 57.4,-235.5 57.9,-238.9 58.4,-240.0" fill="none" stroke="#8d93a6" stroke-width="1.2" stroke-linejoin="round" clip-path="url(#cb)"/><polyline points="58.9,-240.0 59.4,-239.5 59.9,-237.1 60.4,-231.4 60.9,-221.1 61.4,-205.0 61.9,-182.3 62.4,-152.2 62.9,-114.9 63.4,-70.8 63.9,-20.9 64.4,33.3 64.9,89.7 65.4,146.2 65.9,200.7 66.4,251.2 66.9,296.0 67.4,334.2 67.9,365.4 68.4,389.8" fill="none" stroke="#8d93a6" stroke-width="1.2" stroke-linejoin="round" clip-path="url(#cb)"/><line x1="13.3" y1="503.3" x2="519.40" y2="503.3" stroke="#333" stroke-width="1.3"/><line x1="13.30" y1="503.3" x2="13.30" y2="507.3" stroke="#333" stroke-width="1.1"/><line x1="97.65" y1="503.3" x2="97.65" y2="505.1" stroke="#333" stroke-width="1.1"/><line x1="182.00" y1="503.3" x2="182.00" y2="507.3" stroke="#333" stroke-width="1.1"/><line x1="266.35" y1="503.3" x2="266.35" y2="505.1" stroke="#333" stroke-width="1.1"/><line x1="350.70" y1="503.3" x2="350.70" y2="507.3" stroke="#333" stroke-width="1.1"/><line x1="435.05" y1="503.3" x2="435.05" y2="505.1" stroke="#333" stroke-width="1.1"/><line x1="519.40" y1="503.3" x2="519.40" y2="507.3" stroke="#333" stroke-width="1.1"/><text x="13.30" y="519.4" font-size="9.5" text-anchor="middle" class="t">0</text><text x="182.00" y="519.4" font-size="9.5" text-anchor="middle" class="t">1</text><text x="350.70" y="519.4" font-size="9.5" text-anchor="middle" class="t">2</text><text x="519.40" y="519.4" font-size="9.5" text-anchor="middle" class="t">3</text><text x="260.3" y="541.8" font-size="14.6" text-anchor="middle" class="t">Energy (keV)</text><text x="6.8" y="300.5" font-size="18.2" class="t">B</text><rect x="329.4" y="272.3" width="168.20000000000005" height="65.89999999999998" fill="#fff" stroke="#9a9a9a" stroke-width="1"/><line x1="331.4" y1="281.4" x2="359.7" y2="281.4" stroke="#a6e9a6" stroke-width="1.1"/><text x="363.5" y="286.04" font-size="12.9" class="l">Steel Fiber</text><line x1="331.4" y1="297.3" x2="359.7" y2="297.3" stroke="#a09eec" stroke-width="1.1"/><text x="363.5" y="301.94" font-size="12.9" class="l">Hexcel Carbon Fiber</text><line x1="331.4" y1="313.5" x2="359.7" y2="313.5" stroke="#9cc7a0" stroke-width="1.1"/><text x="363.5" y="318.14" font-size="12.9" class="l">Zoltek Carbon Fiber</text><line x1="331.4" y1="329.4" x2="359.7" y2="329.4" stroke="#f5cca4" stroke-width="1.1"/><text x="363.5" y="334.04" font-size="12.9" class="l">Recycled Carbon Fiber</text><polygon points="50.10,362.90 70.50,362.90 70.50,383.10 58.80,383.10 58.80,404.60 53.70,383.10 50.10,383.10" fill="#fff" stroke="#1a1a1a" stroke-width="1.3"/><text x="60.30" y="377.73" font-size="12.5" text-anchor="middle" class="t">C</text><polygon points="78.40,345.70 99.10,345.70 99.10,365.50 95.30,365.50 100.00,405.30 90.90,365.50 78.40,365.50" fill="#fff" stroke="#1a1a1a" stroke-width="1.3"/><text x="88.75" y="360.33" font-size="12.5" text-anchor="middle" class="t">O</text><polygon points="143.50,282.10 174.40,282.10 174.40,302.10 143.50,302.10 143.50,289.80 134.40,292.10 143.50,284.40" fill="#fff" stroke="#1a1a1a" stroke-width="1.3"/><text x="158.95" y="296.83" font-size="12.5" text-anchor="middle" class="t">Fe</text><polygon points="157.40,377.50 188.30,377.50 188.30,397.50 170.40,397.50 168.50,414.30 162.40,397.50 157.40,397.50" fill="#fff" stroke="#1a1a1a" stroke-width="1.3"/><text x="172.85" y="392.23" font-size="12.5" text-anchor="middle" class="t">Cu</text><polygon points="158.30,446.80 189.50,446.80 189.50,462.10 170.70,462.10 150.10,484.50 162.80,462.10 158.30,462.10" fill="#fff" stroke="#1a1a1a" stroke-width="1.3"/><text x="173.90" y="459.98" font-size="12.5" text-anchor="middle" class="t">Fe</text><polygon points="234.60,443.40 265.60,443.40 265.60,459.40 261.20,459.40 263.60,483.00 252.90,459.40 234.60,459.40" fill="#fff" stroke="#1a1a1a" stroke-width="1.3"/><text x="250.10" y="456.62" font-size="12.5" text-anchor="middle" class="t">Al</text><polygon points="262.20,377.50 294.20,377.50 294.20,397.40 289.60,397.40 305.60,417.00 281.60,397.40 262.20,397.40" fill="#fff" stroke="#1a1a1a" stroke-width="1.3"/><polygon points="262.20,377.50 294.20,377.50 294.20,397.40 289.60,397.40 306.40,440.00 281.60,397.40 262.20,397.40" fill="#fff" stroke="#1a1a1a" stroke-width="1.3"/><polygon points="262.20,377.50 294.20,377.50 294.20,397.40 289.60,397.40 306.00,457.00 281.60,397.40 262.20,397.40" fill="#fff" stroke="#1a1a1a" stroke-width="1.3"/><polygon points="262.20,377.50 294.20,377.50 294.20,397.40 289.60,397.40 305.00,477.00 281.60,397.40 262.20,397.40" fill="#fff" stroke="#1a1a1a" stroke-width="1.3"/><rect x="262.85" y="378.15" width="30.70" height="18.60" fill="#fff"/><text x="278.20" y="392.18" font-size="12.5" text-anchor="middle" class="t">Si</text><polygon points="322.10,377.50 353.90,377.50 353.90,397.40 348.20,397.40 369.80,409.20 340.50,397.40 322.10,397.40" fill="#fff" stroke="#1a1a1a" stroke-width="1.3"/><polygon points="322.10,377.50 353.90,377.50 353.90,397.40 348.20,397.40 369.40,425.70 340.50,397.40 322.10,397.40" fill="#fff" stroke="#1a1a1a" stroke-width="1.3"/><polygon points="322.10,377.50 353.90,377.50 353.90,397.40 348.20,397.40 370.00,451.80 340.50,397.40 322.10,397.40" fill="#fff" stroke="#1a1a1a" stroke-width="1.3"/><polygon points="322.10,377.50 353.90,377.50 353.90,397.40 348.20,397.40 366.90,465.80 340.50,397.40 322.10,397.40" fill="#fff" stroke="#1a1a1a" stroke-width="1.3"/><rect x="322.75" y="378.15" width="30.50" height="18.60" fill="#fff"/><text x="338.00" y="392.18" font-size="12.5" text-anchor="middle" class="t">Au</text><polygon points="393.40,377.20 409.10,377.20 409.10,397.00 400.30,397.00 385.60,432.50 395.40,397.00 393.40,397.00" fill="#fff" stroke="#1a1a1a" stroke-width="1.3"/><text x="401.25" y="392.12" font-size="12.5" text-anchor="middle" class="t">S</text><polygon points="451.30,408.60 519.30,408.60 519.30,429.30 451.30,429.30 451.30,417.60 424.50,418.40 451.30,412.10" fill="#fff" stroke="#1a1a1a" stroke-width="1.3"/><text x="485.30" y="423.18" font-size="12.5" text-anchor="middle" class="t">Steel</text><polygon points="451.30,429.30 519.30,429.30 519.30,449.40 451.30,449.40 451.30,446.80 424.50,442.00 451.30,441.30" fill="#fff" stroke="#1a1a1a" stroke-width="1.3"/><text x="485.30" y="443.58" font-size="12.5" text-anchor="middle" class="t">Hexcel</text><polygon points="451.30,449.40 519.30,449.40 519.30,469.30 451.30,469.30 451.30,466.10 425.10,463.50 451.30,461.60" fill="#fff" stroke="#1a1a1a" stroke-width="1.3"/><text x="485.30" y="463.58" font-size="12.5" text-anchor="middle" class="t">Zoltek</text><polygon points="451.30,469.30 519.30,469.30 519.30,489.60 451.30,489.60 451.30,487.10 425.10,483.30 451.30,481.00" fill="#fff" stroke="#1a1a1a" stroke-width="1.3"/><text x="485.30" y="483.68" font-size="12.5" text-anchor="middle" class="t">Recycled</text></svg>
</body></html>
